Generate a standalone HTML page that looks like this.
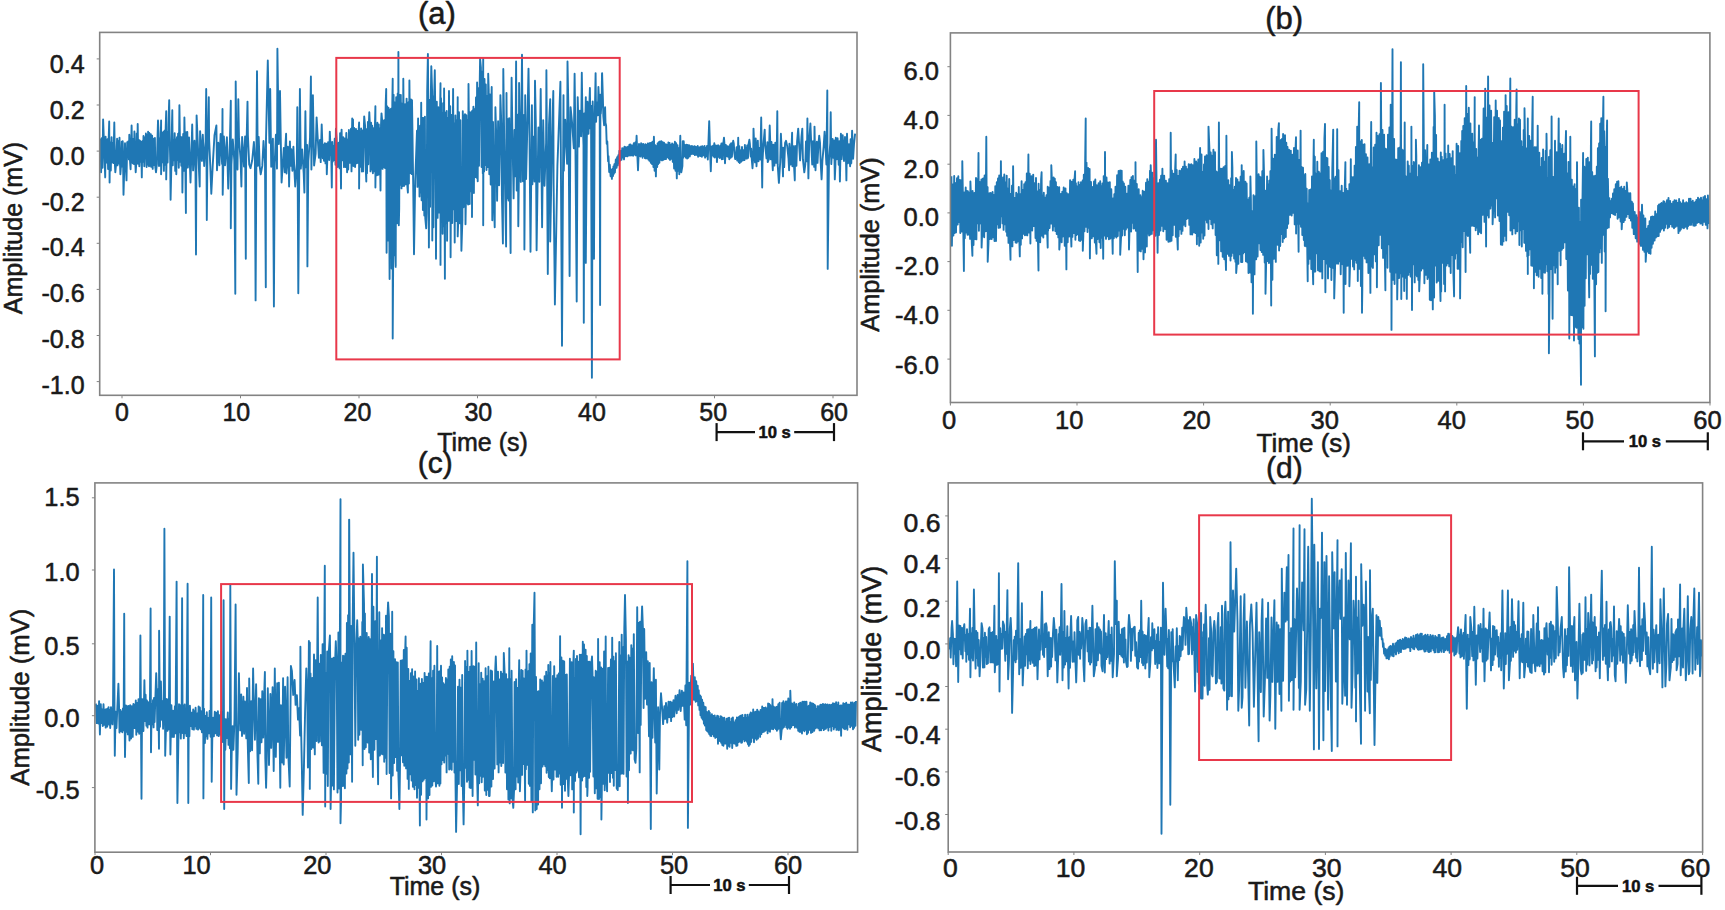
<!DOCTYPE html>
<html lang="en"><head><meta charset="utf-8"><title>Signals</title>
<style>html,body{margin:0;padding:0;background:#fff;}body{width:1725px;height:910px;overflow:hidden;}svg{display:block;font-family:"Liberation Sans", Arial, Helvetica, sans-serif;}svg text{stroke:#1a1a1a;stroke-width:0.55px;stroke-linejoin:round;}</style></head>
<body>
<svg width="1725" height="910" viewBox="0 0 1725 910">
<rect width="1725" height="910" fill="#ffffff"/>
<g id="panel-a">
<clipPath id="clip-a"><rect x="99.7" y="32.4" width="757.3" height="362.9"/></clipPath>
<path clip-path="url(#clip-a)" d="M100.7 138.5L101.1 172.3L101.8 138.1L102.5 167.8L103.1 119.4L104.0 143.0L104.9 168.8L105.2 177.4L105.6 136.7L106.0 159.0L106.7 143.4L107.1 162.7L107.5 139.3L108.1 169.1L108.7 138.3L109.2 121.5L109.6 182.5L110.0 142.2L110.8 170.6L111.6 137.2L112.1 162.3L112.7 143.2L113.4 163.0L114.3 122.5L115.0 166.3L115.3 172.3L116.2 163.0L117.1 138.8L117.5 165.4L118.3 141.3L118.7 163.6L119.5 137.7L120.0 163.5L120.4 174.3L121.2 162.9L121.8 141.6L122.3 166.6L122.7 141.3L123.1 162.4L123.5 194.7L124.5 161.7L125.0 143.2L125.5 157.4L126.5 180.4L127.2 142.2L127.9 156.7L128.4 141.3L128.9 159.4L129.3 134.8L129.9 159.3L130.6 169.3L131.6 125.5L131.9 139.4L132.7 163.2L133.2 138.9L133.9 164.0L134.4 131.5L135.2 161.0L135.7 172.3L136.2 164.2L136.7 133.5L137.2 163.6L137.7 123.9L138.3 163.8L138.7 139.8L139.3 166.3L140.0 140.8L140.9 161.9L141.2 142.0L141.8 177.4L142.3 141.2L142.9 161.7L143.5 136.0L144.3 166.2L145.1 137.3L145.5 158.4L145.9 133.5L146.6 167.0L147.0 135.1L147.6 164.6L148.1 131.7L148.5 163.1L148.9 166.2L149.3 133.0L150.0 165.7L150.8 134.1L151.3 166.9L152.1 135.6L152.7 168.9L153.5 138.7L154.2 165.1L154.9 137.9L155.3 167.2L156.0 172.3L156.9 163.9L157.6 135.6L158.0 120.5L158.6 133.1L159.0 166.0L159.6 138.4L160.3 165.5L161.1 120.5L161.1 174.3L161.5 159.3L162.0 132.6L162.5 162.2L163.3 132.0L163.9 170.9L164.5 130.7L164.9 164.7L165.7 126.5L166.2 111.3L166.2 179.4L166.5 162.2L167.2 132.1L167.6 162.6L168.4 124.9L169.2 100.1L169.6 133.6L170.2 159.9L170.6 199.7L171.4 164.0L171.9 127.5L172.3 110.3L172.8 165.3L173.2 139.9L174.0 160.4L174.7 133.3L175.2 170.9L175.6 139.2L176.3 174.3L177.0 137.1L177.4 160.1L178.1 133.6L178.8 167.7L179.4 105.2L180.3 161.7L180.9 136.9L181.3 165.7L182.0 137.5L182.4 192.6L183.2 133.9L183.9 170.9L184.4 117.4L185.3 162.5L185.9 213.0L186.1 132.3L186.6 167.5L187.3 132.0L187.9 167.5L189.0 137.4L190.5 182.5L191.6 146.3L192.2 124.5L193.1 170.4L194.5 140.7L195.5 172.8L196.0 254.6L196.6 115.4L197.4 134.2L198.9 168.5L199.7 186.5L200.1 131.1L201.9 160.9L202.8 134.7L204.2 166.0L205.6 141.5L206.2 89.0L206.8 220.1L207.4 159.0L208.8 97.1L209.1 139.1L210.3 166.1L211.3 193.7L212.7 165.9L214.5 135.1L216.4 125.5L217.0 170.3L218.3 142.8L219.4 165.3L220.6 134.0L222.1 163.9L222.5 108.9L222.7 194.7L223.9 136.5L225.1 165.2L226.9 137.2L228.2 188.6L229.9 141.3L230.8 100.7L230.8 228.2L231.4 164.7L232.8 139.5L234.3 160.8L235.3 293.7L235.7 81.4L236.3 139.3L237.5 169.6L238.3 99.1L239.0 138.9L240.6 159.4L241.4 186.5L242.1 136.9L244.0 166.5L245.1 136.5L245.8 258.7L246.1 163.4L247.5 101.6L247.9 135.2L249.2 164.4L250.5 168.2L252.2 160.3L253.9 142.0L254.9 159.9L255.6 300.4L256.5 138.8L257.0 71.3L257.8 165.8L258.7 136.9L259.7 166.3L260.7 174.3L262.3 165.9L263.5 141.0L265.0 163.1L265.8 287.2L266.0 139.9L267.8 60.5L269.4 142.8L270.2 89.0L271.2 166.7L272.9 138.8L273.9 306.5L274.7 163.3L275.9 134.7L277.0 168.6L277.4 48.7L278.8 144.0L280.0 91.0L280.9 147.3L281.6 182.5L282.4 169.8L283.8 148.0L284.7 172.3L285.4 146.1L286.1 133.7L286.5 173.5L287.9 146.8L288.9 172.5L289.1 186.5L289.9 141.4L290.6 165.8L291.3 149.1L292.4 170.8L293.4 146.7L294.2 166.3L295.2 186.5L296.8 163.6L297.3 107.3L298.3 293.3L299.5 141.4L299.9 89.0L300.8 168.6L302.2 149.5L303.7 173.7L304.4 192.6L305.4 111.3L306.1 167.3L307.1 145.0L307.4 266.4L308.3 160.9L310.0 138.3L310.9 76.4L311.4 169.5L312.9 95.1L314.1 165.6L315.6 154.0L316.6 117.4L317.8 139.3L318.9 157.7L320.0 140.0L320.7 162.1L321.7 124.5L322.8 158.3L323.5 144.7L324.0 160.7L324.9 143.1L325.5 163.4L326.4 143.6L326.8 174.3L327.3 159.8L328.1 142.1L329.2 160.0L329.8 131.6L330.2 140.1L331.3 156.8L331.8 187.6L332.2 141.9L332.8 161.5L333.3 145.9L334.0 160.0L334.7 138.8L335.5 164.8L335.9 128.6L336.6 138.3L337.7 167.0L338.7 142.8L339.6 168.4L340.1 133.1L340.7 165.5L341.0 188.6L341.3 137.0L341.6 129.6L342.1 160.4L343.2 137.3L344.0 167.1L344.7 138.4L345.6 167.0L346.3 132.9L347.1 172.3L347.6 139.8L348.2 169.5L348.9 130.0L349.9 162.9L351.0 128.8L351.5 171.4L352.2 118.4L352.6 164.3L353.0 119.4L353.4 166.1L354.2 128.0L355.1 167.1L356.0 128.9L356.7 163.3L357.4 130.9L357.8 162.8L358.5 133.5L359.1 122.5L359.1 188.6L359.7 131.6L360.3 166.8L361.1 128.5L361.9 171.6L362.7 130.4L363.1 171.4L363.9 126.2L364.2 116.4L365.1 126.1L365.8 169.9L366.3 181.5L366.5 129.2L367.0 173.2L367.9 121.9L368.3 164.3L368.8 125.7L369.3 112.3L370.1 129.2L370.5 171.4L371.1 122.7L371.7 169.6L372.2 125.6L372.9 173.2L373.3 128.1L374.1 171.4L374.9 126.8L375.4 106.2L375.4 187.6L376.2 124.8L376.9 175.2L377.4 122.8L378.2 174.7L378.8 124.5L379.2 174.4L379.6 128.1L380.5 190.6L381.0 125.1L381.5 113.4L382.2 121.0L382.6 168.9L383.3 120.6L383.9 167.0L384.4 120.1L385.0 168.0L385.7 103.3L386.2 89.0L386.6 252.7L387.3 106.4L388.1 240.6L388.6 108.0L389.6 279.1L390.0 109.6L390.5 257.0L391.1 108.6L391.6 268.6L392.3 102.9L392.7 78.8L392.7 338.5L393.1 275.2L393.6 94.8L394.4 255.3L394.8 102.5L395.4 258.1L395.7 266.9L396.2 97.2L397.0 223.3L397.7 93.4L398.1 209.6L398.4 52.0L398.8 225.2L399.2 208.8L399.7 94.9L400.4 184.8L400.8 94.9L401.5 188.4L402.0 103.6L402.9 186.0L403.3 78.8L403.5 100.8L404.2 185.9L405.1 104.1L405.9 184.4L406.6 98.6L407.4 187.0L407.9 192.6L408.3 102.4L408.9 183.5L409.4 80.4L409.7 107.0L410.3 173.1L411.0 99.4L411.6 174.0L412.0 100.1L413.2 184.2L414.0 254.3L415.2 181.2L417.0 130.6L417.5 186.9L418.1 118.5L418.5 184.0L419.0 127.4L419.5 196.5L420.1 125.8L420.6 192.6L421.2 102.8L421.6 200.2L422.4 117.9L422.9 210.0L423.7 117.9L424.3 215.6L424.9 116.8L425.3 218.4L426.2 228.3L426.7 212.9L427.2 91.2L427.9 54.0L428.3 103.2L428.9 247.6L429.6 100.0L430.1 206.8L430.6 109.1L431.3 66.2L432.1 91.1L432.3 240.5L433.0 96.3L433.4 227.2L434.2 95.1L434.8 70.3L435.3 115.0L436.0 258.8L436.8 101.8L437.6 217.9L438.3 107.2L439.2 212.5L440.0 114.3L440.5 83.3L440.5 264.9L441.0 98.3L441.6 221.9L442.0 112.7L442.6 233.7L443.1 103.2L443.6 226.2L444.1 88.5L444.9 278.7L445.3 112.8L446.0 222.8L446.7 110.9L447.1 240.7L447.8 118.2L448.5 220.9L449.0 91.0L449.6 220.6L450.2 106.2L450.6 257.2L451.4 114.9L452.2 223.0L453.1 89.0L453.8 209.3L454.2 123.2L454.7 242.5L455.4 115.4L456.2 221.0L456.6 120.6L457.0 208.6L457.7 97.1L457.7 236.4L458.4 215.7L459.0 112.2L459.8 223.2L460.4 120.2L460.9 202.8L461.4 250.7L462.4 219.5L462.8 111.3L463.5 207.2L464.0 115.8L464.4 205.7L465.0 114.1L465.5 224.2L465.8 206.5L466.3 115.2L467.1 203.3L467.6 119.7L468.1 204.6L468.5 83.9L468.9 119.3L469.7 204.1L470.1 112.2L470.8 191.2L471.2 123.8L472.0 111.3L472.0 217.1L472.4 110.8L473.0 190.0L473.4 106.7L473.9 193.0L474.5 109.1L475.1 177.0L476.0 97.5L476.7 177.7L477.1 82.4L477.7 181.2L478.2 88.3L479.0 165.8L479.6 89.6L480.1 58.5L480.9 67.7L481.6 167.0L482.3 71.5L482.8 173.6L483.2 58.5L483.2 225.2L483.6 88.8L484.1 171.5L484.5 78.9L485.2 165.0L485.8 84.4L486.5 170.0L487.1 95.9L487.8 167.1L488.2 73.7L488.7 90.1L489.3 174.2L490.0 94.5L490.7 184.6L491.4 102.2L491.7 86.9L492.3 220.2L493.0 122.0L493.9 201.1L494.7 227.3L495.4 107.3L496.2 134.5L497.1 200.7L498.1 121.2L499.1 185.3L500.0 138.1L500.4 95.1L501.4 127.7L501.9 195.4L502.9 243.5L503.3 69.0L504.2 138.5L505.3 202.0L506.1 246.6L506.5 93.0L507.1 198.2L507.7 119.1L508.6 200.5L509.2 118.1L509.8 191.4L510.6 253.1L511.0 142.4L511.6 77.8L512.5 139.4L513.6 198.4L514.5 130.0L515.4 176.4L516.1 61.5L516.7 190.5L517.9 114.7L518.3 226.3L518.8 182.2L519.1 82.9L519.6 116.1L520.8 181.9L522.0 54.8L522.9 181.2L524.1 115.0L524.4 249.6L524.8 194.0L525.2 95.1L526.1 179.0L527.2 132.4L528.5 68.6L529.5 138.1L530.5 251.7L531.6 140.3L531.9 105.2L532.4 184.3L533.7 136.7L534.5 181.6L535.0 80.8L535.8 122.2L536.6 250.3L538.4 127.5L539.4 181.8L540.7 89.0L541.1 126.4L542.1 227.3L543.2 120.1L544.5 185.7L546.1 142.5L546.4 70.3L547.8 274.0L549.0 124.6L550.2 99.1L550.2 241.5L552.1 137.0L553.3 91.0L553.6 183.4L554.9 304.5L557.4 166.0L559.0 122.4L560.4 81.8L562.0 345.8L563.5 95.1L563.8 170.6L565.2 119.8L567.1 163.7L567.5 61.5L568.5 114.6L569.6 276.1L570.2 159.4L570.6 107.3L572.1 123.2L573.8 148.3L574.6 73.7L575.2 119.5L576.7 301.5L577.7 97.1L578.0 109.2L578.9 146.6L579.9 110.7L581.1 136.3L581.8 72.7L582.3 107.3L583.5 144.9L583.8 322.8L584.3 113.4L585.0 138.3L585.8 97.1L585.8 262.9L586.8 139.1L587.5 101.8L588.5 133.8L589.9 87.9L590.4 128.5L591.0 105.8L591.9 377.7L592.7 101.5L593.3 129.6L594.0 258.8L594.6 126.6L595.6 73.1L596.1 121.7L596.8 102.2L597.9 115.3L598.4 86.9L599.7 114.3L600.1 305.1L600.4 94.8L600.8 113.8L601.7 98.9L602.0 73.7L602.1 73.1L602.9 98.5L603.3 115.8L604.1 125.2L605.1 107.3L605.5 122.7L606.1 125.4L606.7 143.8L607.3 141.5L608.1 161.2L608.5 156.1L609.2 172.0L609.8 164.7L610.6 176.2L611.4 170.0L611.9 178.9L612.5 168.6L613.0 176.0L613.4 166.5L613.9 173.8L614.4 164.1L614.9 172.4L615.8 159.5L616.6 167.7L617.1 157.3L617.8 165.4L618.3 155.2L618.8 163.2L619.4 150.7L620.1 160.6L620.7 151.0L621.5 159.7L622.2 148.3L623.1 157.5L623.6 148.3L624.0 159.4L624.5 146.7L625.2 156.2L625.7 147.3L626.1 156.0L626.8 147.5L627.3 156.4L628.0 146.8L628.7 155.6L629.4 144.8L629.9 155.2L630.4 144.4L631.0 155.5L631.8 145.4L632.3 155.1L632.7 145.8L633.1 155.8L633.8 143.1L634.6 154.5L635.3 142.4L635.8 155.4L636.6 135.7L637.3 154.2L638.0 170.3L638.6 155.3L639.0 143.9L639.5 156.0L640.0 144.9L640.6 156.5L641.1 143.3L641.6 155.4L642.1 144.3L642.6 157.7L643.3 144.0L644.0 156.1L644.6 144.9L645.0 158.1L645.4 144.3L646.0 158.5L646.6 145.0L646.9 158.1L647.8 143.4L648.3 159.5L648.7 143.6L649.4 160.8L650.0 142.9L650.8 162.7L651.5 142.8L652.0 164.1L652.6 141.8L653.4 167.0L653.9 136.7L654.2 147.5L654.6 170.7L655.2 145.2L655.9 176.4L656.5 146.1L657.2 167.1L657.6 143.4L658.1 164.1L658.7 142.3L659.4 162.8L660.0 141.4L660.9 159.8L661.4 141.2L662.0 160.4L662.7 142.1L663.5 159.8L664.0 142.6L664.6 159.0L665.2 144.1L665.9 159.1L666.4 144.4L666.9 157.5L667.5 144.9L667.9 156.9L668.4 142.4L668.8 158.5L669.6 143.0L670.0 159.9L670.8 144.9L671.3 158.8L672.1 143.5L672.8 161.9L673.5 144.4L674.1 168.6L674.9 141.8L675.5 170.7L676.2 143.3L676.8 178.4L677.5 145.1L678.2 170.9L678.6 148.1L679.3 174.3L680.3 135.7L680.8 168.5L681.3 172.3L682.4 166.2L682.8 141.3L683.2 157.7L683.7 141.2L684.6 156.1L685.1 145.2L685.7 157.6L686.3 144.6L687.1 158.5L687.6 144.9L688.3 157.8L689.1 145.3L689.8 156.3L690.6 146.2L691.1 154.2L691.9 145.9L692.5 153.9L693.1 146.8L693.7 154.0L694.4 146.3L694.9 155.1L695.4 146.7L695.8 154.3L696.6 147.1L697.0 155.0L697.7 146.0L698.1 156.7L698.7 147.4L699.5 155.7L699.9 147.2L700.6 156.0L701.1 146.5L701.9 156.7L702.5 146.3L703.2 155.4L703.6 147.7L704.1 155.5L704.6 146.0L705.1 157.6L705.5 147.6L706.4 156.4L707.0 146.0L707.8 159.5L708.3 146.0L709.2 121.1L710.0 148.0L710.8 171.3L711.5 146.4L712.4 155.2L713.0 145.7L713.6 156.6L714.3 143.2L714.8 157.5L715.4 145.4L716.2 156.6L716.6 145.6L716.9 162.1L717.4 156.6L718.1 145.3L718.8 156.9L719.2 147.4L719.8 158.0L720.2 145.7L720.7 157.3L721.4 143.5L721.8 159.2L722.4 143.8L722.8 159.1L723.4 142.6L724.0 137.7L724.6 145.7L725.0 163.2L725.9 145.0L726.4 156.2L727.3 146.3L728.0 156.7L728.6 146.4L729.3 159.2L730.1 144.5L730.7 157.7L731.2 143.3L731.9 156.7L732.6 144.7L733.2 140.8L733.8 143.6L734.4 153.7L735.2 159.1L735.8 157.4L736.6 147.2L737.2 160.5L738.0 147.7L738.2 137.7L738.7 162.1L739.3 146.3L739.7 163.0L740.3 150.2L741.1 161.8L742.0 147.0L742.7 160.5L743.6 150.1L744.4 160.1L744.9 144.9L745.5 158.5L746.3 147.5L746.8 158.6L747.2 145.4L748.0 157.9L748.5 144.4L749.4 139.8L749.9 144.2L750.7 156.5L751.2 148.7L751.7 158.3L752.5 168.2L753.2 157.1L753.5 128.6L754.0 140.7L755.0 162.4L755.7 138.5L756.5 166.2L757.8 140.6L758.5 161.3L759.5 147.9L760.3 159.5L761.2 117.4L762.2 187.6L762.5 162.3L763.3 146.1L764.7 129.6L765.1 144.3L766.5 158.3L767.4 142.3L767.7 162.1L768.8 159.4L769.7 125.5L770.8 159.3L771.5 142.0L772.5 164.1L772.8 170.3L773.4 144.6L774.4 165.6L775.3 142.6L776.1 162.7L776.9 141.1L777.3 111.3L777.7 164.9L778.9 182.9L780.2 162.3L780.9 133.7L781.4 144.9L782.4 160.0L783.0 176.4L783.3 147.7L784.2 167.1L785.1 142.9L786.0 140.8L787.2 146.1L788.5 158.4L789.1 170.3L789.4 143.7L790.7 164.5L791.7 143.6L792.1 132.7L792.4 166.3L793.1 146.0L794.0 165.5L794.8 180.4L795.1 145.9L796.4 165.8L797.1 141.6L798.2 128.6L799.0 142.6L800.1 160.4L801.5 136.8L802.3 128.6L802.9 159.2L804.3 172.3L805.3 164.5L806.0 141.4L806.9 161.3L807.4 118.4L807.7 136.5L808.4 178.4L809.2 141.4L810.4 123.5L811.1 140.4L812.2 164.5L813.0 141.3L814.2 166.9L814.5 126.6L814.9 145.7L815.5 170.3L816.8 141.7L817.5 162.9L818.5 143.5L819.2 135.7L820.0 142.6L820.7 162.9L821.6 179.4L822.4 160.8L823.7 146.1L824.6 131.6L825.4 145.1L826.4 164.5L827.3 90.4L827.7 268.9L829.0 160.4L830.3 142.9L830.7 112.3L831.3 164.1L832.6 138.9L833.5 157.9L834.2 140.5L834.8 179.4L835.4 165.8L835.8 137.7L836.1 143.0L836.7 159.3L837.6 138.2L838.7 164.7L839.3 141.1L839.9 181.5L840.9 133.7L841.6 159.1L842.7 135.2L844.0 161.0L845.0 137.0L846.0 160.5L846.4 180.4L847.0 133.7L848.0 163.2L849.0 144.3L850.1 166.2L850.6 139.3L851.3 163.4L852.1 130.6L853.1 158.7L854.0 144.1L855.1 133.7" fill="none" stroke="#1f77b4" stroke-width="1.90" stroke-linejoin="round"/>
<rect x="336.3" y="57.9" width="283.4" height="301.5" fill="none" stroke="#e8384a" stroke-width="2"/>
<rect x="99.7" y="32.4" width="757.3" height="362.9" fill="none" stroke="#838383" stroke-width="1.6"/>
<line x1="96.7" y1="58.9" x2="99.7" y2="58.9" stroke="#838383" stroke-width="1"/>
<line x1="96.7" y1="105.0" x2="99.7" y2="105.0" stroke="#838383" stroke-width="1"/>
<line x1="96.7" y1="151.1" x2="99.7" y2="151.1" stroke="#838383" stroke-width="1"/>
<line x1="96.7" y1="197.2" x2="99.7" y2="197.2" stroke="#838383" stroke-width="1"/>
<line x1="96.7" y1="243.3" x2="99.7" y2="243.3" stroke="#838383" stroke-width="1"/>
<line x1="96.7" y1="289.4" x2="99.7" y2="289.4" stroke="#838383" stroke-width="1"/>
<line x1="96.7" y1="335.5" x2="99.7" y2="335.5" stroke="#838383" stroke-width="1"/>
<line x1="96.7" y1="381.6" x2="99.7" y2="381.6" stroke="#838383" stroke-width="1"/>
<line x1="122.0" y1="395.3" x2="122.0" y2="398.3" stroke="#838383" stroke-width="1"/>
<line x1="240.5" y1="395.3" x2="240.5" y2="398.3" stroke="#838383" stroke-width="1"/>
<line x1="359.0" y1="395.3" x2="359.0" y2="398.3" stroke="#838383" stroke-width="1"/>
<line x1="477.5" y1="395.3" x2="477.5" y2="398.3" stroke="#838383" stroke-width="1"/>
<line x1="596.0" y1="395.3" x2="596.0" y2="398.3" stroke="#838383" stroke-width="1"/>
<line x1="714.5" y1="395.3" x2="714.5" y2="398.3" stroke="#838383" stroke-width="1"/>
<line x1="833.0" y1="395.3" x2="833.0" y2="398.3" stroke="#838383" stroke-width="1"/>
<text x="84.6" y="72.9" text-anchor="end" font-size="25" fill="#1a1a1a">0.4</text>
<text x="84.6" y="118.8" text-anchor="end" font-size="25" fill="#1a1a1a">0.2</text>
<text x="84.6" y="164.6" text-anchor="end" font-size="25" fill="#1a1a1a">0.0</text>
<text x="84.6" y="210.5" text-anchor="end" font-size="25" fill="#1a1a1a">-0.2</text>
<text x="84.6" y="256.3" text-anchor="end" font-size="25" fill="#1a1a1a">-0.4</text>
<text x="84.6" y="302.1" text-anchor="end" font-size="25" fill="#1a1a1a">-0.6</text>
<text x="84.6" y="348.0" text-anchor="end" font-size="25" fill="#1a1a1a">-0.8</text>
<text x="84.6" y="393.9" text-anchor="end" font-size="25" fill="#1a1a1a">-1.0</text>
<text x="122.0" y="421.3" text-anchor="middle" font-size="25" fill="#1a1a1a">0</text>
<text x="236.3" y="421.3" text-anchor="middle" font-size="25" fill="#1a1a1a">10</text>
<text x="357.4" y="421.3" text-anchor="middle" font-size="25" fill="#1a1a1a">20</text>
<text x="478.3" y="421.3" text-anchor="middle" font-size="25" fill="#1a1a1a">30</text>
<text x="591.9" y="421.3" text-anchor="middle" font-size="25" fill="#1a1a1a">40</text>
<text x="713.2" y="421.3" text-anchor="middle" font-size="25" fill="#1a1a1a">50</text>
<text x="834.1" y="421.3" text-anchor="middle" font-size="25" fill="#1a1a1a">60</text>
<text x="482.5" y="450.6" text-anchor="middle" font-size="25" fill="#1a1a1a">Time (s)</text>
<text transform="translate(22.0 228.0) rotate(-90)" text-anchor="middle" font-size="25" fill="#1a1a1a">Amplitude (mV)</text>
<text x="437.0" y="23.7" text-anchor="middle" font-size="31" fill="#1a1a1a">(a)</text>
<g stroke="#111" stroke-width="2.2" fill="none">
<line x1="716.6" y1="423.1" x2="716.6" y2="441.1"/>
<line x1="834.0" y1="423.1" x2="834.0" y2="441.1"/>
<line x1="716.6" y1="432.1" x2="755.0" y2="432.1"/>
<line x1="794.2" y1="432.1" x2="834.0" y2="432.1"/>
</g>
<text x="774.6" y="437.8" text-anchor="middle" font-size="16.6" font-weight="bold" fill="#111">10 s</text>
</g>
<g id="panel-b">
<clipPath id="clip-b"><rect x="950.4" y="32.9" width="759.5" height="369.6"/></clipPath>
<path clip-path="url(#clip-b)" d="M951.4 176.3L951.9 245.7L952.8 184.5L953.4 235.5L954.2 176.0L954.7 233.0L955.2 183.0L956.0 232.4L957.0 178.2L957.7 224.5L958.3 176.3L959.1 222.1L959.9 179.9L960.3 233.0L961.0 180.5L962.0 231.5L962.3 161.1L962.7 184.1L963.4 237.5L963.9 271.0L964.2 192.5L964.8 238.2L965.7 187.4L966.4 232.6L966.9 191.0L967.5 234.8L967.9 191.3L968.7 234.5L969.2 192.8L970.1 238.9L970.4 181.5L970.8 192.1L971.8 243.5L972.4 255.7L972.6 190.9L973.5 245.0L974.4 193.0L975.2 239.0L976.0 178.0L976.4 239.4L976.9 179.0L977.8 223.2L978.3 173.8L978.5 153.0L978.9 230.7L979.8 181.9L980.7 223.6L981.4 179.5L981.6 247.6L982.2 231.2L982.8 178.8L983.3 235.8L983.7 178.3L984.2 237.3L984.6 175.4L985.5 231.3L986.0 176.7L986.3 136.7L986.8 231.0L987.6 187.1L987.7 261.8L988.5 243.3L989.4 193.2L990.0 239.1L990.7 192.9L991.7 239.1L992.6 192.0L993.4 237.3L993.8 195.0L994.5 241.1L995.3 186.3L996.0 241.1L996.8 182.1L997.3 224.4L998.0 178.5L998.6 227.9L999.2 175.5L1000.1 227.5L1000.8 177.9L1000.9 161.1L1001.4 216.4L1002.0 182.4L1002.5 223.4L1003.0 177.4L1003.6 229.9L1004.3 174.5L1004.9 224.4L1005.7 182.5L1006.2 231.8L1006.7 175.6L1007.1 235.7L1007.8 188.7L1008.5 242.9L1009.2 178.9L1010.0 243.8L1010.5 259.8L1010.6 193.9L1011.3 245.5L1012.0 185.6L1012.4 246.4L1013.0 190.3L1013.1 166.2L1013.9 240.0L1014.7 198.0L1015.6 242.5L1016.2 192.8L1016.7 242.7L1017.4 194.1L1018.2 241.3L1018.8 187.0L1019.4 242.1L1019.8 256.4L1020.2 194.1L1020.8 244.7L1021.6 181.2L1022.1 238.4L1022.6 189.6L1023.5 233.8L1024.2 184.3L1024.9 235.2L1025.5 182.3L1026.3 234.8L1026.8 173.4L1027.3 235.4L1028.2 172.8L1028.4 154.4L1028.9 232.6L1029.7 173.7L1030.4 243.5L1030.5 226.0L1031.4 176.2L1032.2 230.5L1033.2 174.6L1033.8 226.0L1034.7 183.2L1035.5 238.0L1036.0 178.0L1036.6 240.9L1037.1 191.4L1038.0 243.3L1038.5 270.6L1038.6 183.8L1039.2 234.5L1039.7 190.3L1040.2 242.3L1041.1 179.3L1041.6 172.3L1042.0 235.7L1042.7 195.8L1043.3 237.5L1043.8 192.7L1044.4 233.8L1045.2 197.6L1045.9 233.8L1046.5 195.3L1047.1 231.2L1047.7 247.6L1047.7 186.7L1048.1 230.8L1049.1 187.8L1049.6 228.0L1050.5 180.9L1051.3 223.5L1051.3 165.2L1052.1 185.0L1052.9 230.6L1053.6 177.5L1054.3 226.3L1054.8 178.8L1055.3 231.0L1055.9 182.1L1056.7 234.1L1057.4 186.9L1058.3 237.4L1059.2 187.3L1059.3 249.6L1060.1 237.5L1060.9 194.0L1061.7 242.2L1062.3 191.6L1062.8 236.5L1063.7 187.5L1064.7 245.8L1065.5 188.5L1066.2 251.3L1066.4 269.4L1066.8 193.1L1067.7 242.2L1068.5 194.2L1069.2 236.6L1070.1 180.1L1071.0 235.8L1071.4 246.6L1071.7 181.6L1072.4 236.9L1073.3 179.6L1074.1 233.0L1074.5 179.8L1075.1 171.3L1075.4 239.8L1075.9 183.2L1076.6 235.0L1077.1 186.5L1077.6 234.0L1078.5 182.1L1079.0 240.4L1079.5 185.0L1080.1 241.0L1081.0 182.1L1082.0 240.0L1082.7 180.4L1082.8 250.7L1083.3 236.4L1083.8 174.8L1084.5 231.3L1085.1 167.0L1085.7 118.4L1085.7 226.9L1086.5 162.6L1087.5 232.0L1088.1 168.0L1088.8 227.7L1089.6 169.0L1089.9 258.4L1090.2 229.7L1091.0 182.0L1091.8 238.2L1092.2 186.9L1093.1 236.4L1094.0 181.5L1094.8 242.6L1095.3 179.5L1095.9 243.2L1096.5 253.7L1096.8 185.1L1097.6 239.1L1098.6 183.3L1099.4 242.3L1100.2 181.3L1100.7 248.0L1101.2 186.4L1101.8 237.7L1102.4 183.4L1103.0 241.9L1103.2 258.8L1103.7 176.1L1104.7 235.6L1105.0 152.0L1105.1 173.8L1106.0 238.9L1106.5 177.5L1107.4 236.2L1108.0 182.4L1108.9 239.2L1109.8 182.1L1110.4 238.6L1111.3 189.3L1112.2 233.2L1112.7 253.7L1113.0 198.5L1113.8 238.2L1114.3 194.2L1114.9 236.3L1115.5 186.8L1116.4 237.6L1117.1 175.3L1117.8 236.0L1118.6 171.0L1119.6 230.8L1120.2 170.5L1120.2 254.7L1121.1 236.2L1121.7 170.8L1122.2 235.6L1122.7 181.5L1123.4 228.9L1123.9 183.4L1124.8 235.2L1125.3 186.8L1125.9 229.5L1126.9 193.7L1127.5 227.5L1128.4 185.8L1129.0 249.6L1129.4 233.6L1130.3 180.0L1131.1 231.5L1131.5 177.1L1132.0 222.8L1132.9 176.0L1133.5 228.6L1134.3 180.7L1134.9 228.4L1135.5 179.7L1135.5 162.1L1135.9 230.8L1136.8 184.0L1137.7 272.0L1137.8 241.6L1138.7 189.2L1139.5 250.7L1140.4 195.3L1140.8 251.4L1141.3 197.0L1141.9 248.7L1142.7 190.8L1143.5 259.2L1144.4 191.6L1145.0 252.4L1146.0 182.8L1146.8 246.5L1147.3 179.1L1147.8 233.6L1148.6 181.6L1149.1 235.6L1150.0 170.7L1150.5 234.6L1150.7 165.2L1151.3 184.0L1151.8 233.9L1152.5 172.6L1153.2 230.2L1154.0 178.1L1154.6 227.2L1155.0 172.8L1155.4 235.7L1156.0 139.8L1156.4 171.2L1157.4 237.0L1157.6 252.7L1158.3 183.3L1159.0 235.1L1159.9 179.7L1160.5 230.5L1161.1 175.7L1161.6 225.9L1162.4 168.7L1163.3 231.2L1164.2 175.8L1165.0 229.0L1165.9 180.8L1166.6 239.8L1167.5 183.3L1168.4 241.8L1169.2 179.1L1169.9 241.6L1170.6 164.6L1170.7 132.7L1171.5 240.8L1171.9 170.5L1172.7 235.3L1173.3 173.6L1174.2 224.9L1175.1 170.5L1175.7 154.4L1175.8 236.8L1176.7 170.0L1177.2 236.2L1177.8 249.6L1178.1 175.9L1178.6 236.2L1179.5 170.8L1180.0 229.4L1180.6 171.3L1181.4 233.9L1181.8 169.0L1182.5 230.9L1183.0 166.7L1183.7 224.8L1184.6 161.5L1185.4 226.2L1185.9 166.6L1186.7 219.1L1187.2 169.2L1187.8 218.0L1188.7 164.3L1189.3 224.9L1189.9 164.8L1190.5 234.4L1191.3 164.2L1192.2 234.6L1192.8 165.2L1193.4 232.4L1194.4 159.0L1195.3 233.0L1196.1 161.5L1196.9 244.3L1197.3 163.4L1197.8 235.8L1198.3 159.4L1199.2 245.8L1199.9 165.0L1200.1 147.9L1200.7 242.5L1201.5 154.5L1202.0 232.6L1202.5 171.6L1203.2 238.7L1204.0 164.4L1204.5 235.6L1205.0 156.4L1206.0 219.7L1206.6 155.1L1207.0 222.5L1207.7 159.6L1208.5 229.1L1208.5 126.6L1209.5 151.0L1210.3 219.1L1210.7 152.4L1211.3 224.3L1211.9 155.6L1212.7 228.4L1213.4 149.8L1214.3 222.5L1215.0 152.2L1215.6 235.1L1216.1 171.5L1216.8 255.3L1217.7 172.2L1218.3 241.5L1218.3 263.9L1218.9 122.5L1219.2 171.9L1220.2 240.4L1220.6 168.8L1221.1 251.2L1222.1 168.8L1222.7 256.7L1223.6 167.2L1224.3 259.3L1225.2 166.0L1225.6 257.9L1226.0 270.0L1226.4 135.7L1226.6 167.9L1227.5 253.7L1228.3 180.2L1229.0 255.9L1229.5 185.3L1230.5 260.6L1231.1 178.3L1231.5 255.9L1231.9 152.0L1232.4 167.9L1233.0 252.7L1233.6 190.0L1234.1 258.6L1234.8 186.7L1235.4 261.7L1236.0 178.0L1236.2 273.0L1237.0 262.5L1237.4 179.4L1238.4 263.8L1238.9 182.3L1239.9 254.3L1240.6 176.8L1241.1 262.0L1241.7 165.1L1242.3 262.1L1242.7 173.0L1243.2 253.4L1243.7 170.9L1244.5 252.1L1245.4 181.8L1245.9 261.2L1246.6 183.5L1247.5 262.4L1248.0 199.6L1248.5 273.1L1249.3 197.6L1250.1 272.5L1250.4 176.4L1250.9 199.4L1251.5 282.3L1251.9 210.9L1252.8 274.7L1252.9 313.7L1253.5 195.2L1254.5 274.4L1255.3 196.3L1256.2 259.3L1256.3 141.4L1256.8 185.1L1257.6 256.6L1258.6 174.2L1259.5 243.4L1259.9 176.8L1260.4 250.0L1261.2 177.7L1261.7 252.1L1262.3 171.1L1263.2 254.9L1263.4 149.9L1264.0 172.6L1264.7 262.6L1265.4 190.8L1265.5 293.8L1266.2 259.7L1267.1 176.5L1267.7 261.1L1268.2 184.7L1268.9 263.1L1269.3 180.6L1269.8 262.6L1270.4 171.1L1271.2 305.5L1271.2 263.4L1271.6 128.6L1271.9 150.9L1272.4 279.7L1273.0 158.6L1274.0 258.8L1274.8 154.6L1275.8 261.9L1276.7 137.0L1277.6 244.7L1278.3 130.2L1278.9 123.1L1279.1 250.6L1279.7 140.4L1280.2 246.0L1280.9 140.0L1281.4 234.0L1282.0 139.0L1282.7 242.1L1283.1 134.0L1284.1 238.4L1285.0 135.1L1285.8 237.0L1286.3 142.7L1287.1 228.0L1287.5 147.0L1288.2 223.8L1289.0 149.6L1289.8 214.9L1290.8 150.6L1291.7 215.5L1292.6 154.7L1293.2 212.7L1294.0 148.0L1294.7 224.4L1295.4 151.7L1296.0 137.3L1296.1 233.6L1296.6 152.3L1297.1 223.9L1297.7 150.4L1298.3 227.7L1298.6 251.7L1299.0 159.9L1299.7 223.9L1300.4 159.4L1300.6 130.6L1301.0 226.8L1301.8 167.3L1302.3 235.1L1303.0 167.7L1303.8 240.1L1304.3 175.4L1304.8 245.9L1305.3 173.9L1306.3 246.4L1306.7 188.7L1307.3 253.4L1307.7 281.2L1307.8 203.6L1308.4 263.9L1309.2 189.9L1310.0 258.9L1310.8 189.4L1311.3 269.1L1312.0 176.4L1312.8 270.2L1313.2 284.2L1313.4 167.8L1313.8 139.8L1314.1 271.8L1314.8 156.8L1315.3 271.6L1315.9 173.6L1316.8 253.2L1317.3 161.8L1318.0 270.2L1318.8 171.8L1319.6 271.4L1320.0 173.5L1320.6 271.5L1321.5 153.2L1322.3 278.4L1323.1 151.8L1323.9 259.0L1324.4 138.9L1325.0 123.9L1325.3 280.3L1325.4 292.3L1326.2 157.7L1326.8 263.5L1327.4 158.2L1328.0 278.4L1328.7 166.9L1329.3 266.2L1329.8 180.2L1330.3 267.0L1330.9 190.6L1331.4 280.1L1332.3 169.7L1333.2 129.6L1333.3 268.0L1334.1 178.2L1334.2 298.4L1335.1 266.0L1335.6 176.6L1336.5 263.6L1337.2 129.2L1337.3 151.8L1338.1 263.7L1338.5 170.1L1339.2 261.2L1340.0 191.1L1340.7 274.3L1341.7 185.8L1342.6 264.3L1343.1 192.9L1343.7 312.7L1343.8 268.3L1344.6 195.4L1345.4 162.1L1345.5 284.0L1346.3 188.8L1347.2 265.7L1347.8 191.0L1348.6 265.6L1349.4 184.1L1349.4 286.2L1350.1 264.1L1350.8 159.1L1351.0 189.3L1351.5 258.9L1352.1 177.3L1353.0 266.6L1353.7 177.0L1354.2 269.4L1354.6 165.6L1355.4 260.0L1355.9 147.0L1356.5 262.8L1357.2 126.6L1357.8 281.0L1358.5 137.3L1359.2 102.2L1359.3 268.8L1360.2 141.5L1360.9 286.1L1361.8 139.9L1362.0 312.7L1362.3 290.5L1363.0 144.7L1363.5 255.7L1364.5 144.1L1365.1 258.6L1365.9 154.1L1366.6 262.4L1367.5 157.4L1368.4 273.0L1369.3 164.1L1370.0 249.6L1370.4 292.9L1370.8 158.8L1371.2 121.9L1371.7 266.6L1372.2 167.1L1372.9 267.9L1373.7 147.5L1374.4 254.2L1375.2 144.8L1375.8 261.4L1376.5 132.8L1376.9 287.3L1377.1 252.0L1377.8 136.0L1378.7 245.3L1379.5 134.2L1380.4 234.9L1380.9 82.9L1381.2 125.2L1381.8 248.3L1382.5 130.0L1383.1 257.9L1384.1 134.6L1384.9 260.5L1385.4 290.3L1385.6 148.8L1386.3 253.2L1386.8 149.5L1387.5 267.7L1388.0 134.6L1388.5 244.4L1389.4 127.5L1390.2 271.7L1390.7 104.7L1391.4 278.2L1391.5 329.9L1392.3 92.2L1392.5 49.3L1393.1 279.8L1394.1 138.9L1394.6 284.1L1395.0 159.3L1395.8 272.6L1396.7 159.6L1397.2 299.4L1397.7 267.9L1398.2 148.2L1399.1 278.1L1399.5 147.8L1400.1 273.3L1400.7 122.4L1400.9 62.1L1401.3 299.0L1401.9 149.5L1402.6 276.6L1403.3 150.4L1404.2 291.1L1404.6 148.6L1404.7 122.5L1405.1 277.8L1405.9 176.5L1406.8 298.9L1407.7 161.5L1408.4 274.9L1408.8 165.7L1409.4 272.1L1410.1 173.6L1410.6 276.5L1411.4 161.0L1411.4 126.6L1411.9 276.8L1412.0 310.0L1412.6 166.0L1413.3 264.3L1413.8 162.0L1414.7 282.4L1415.2 162.9L1415.7 274.8L1415.9 139.8L1416.3 155.5L1417.0 276.4L1417.5 177.3L1418.3 280.0L1418.9 165.2L1419.2 291.3L1419.9 274.0L1420.3 167.3L1421.1 270.5L1422.0 162.6L1422.9 268.6L1423.2 64.2L1423.7 130.5L1424.4 283.2L1425.1 150.2L1425.9 274.9L1426.8 169.6L1427.3 144.9L1427.5 279.0L1428.2 164.2L1428.9 277.2L1429.4 164.2L1429.8 299.8L1430.3 159.5L1431.0 300.3L1431.9 152.6L1432.8 309.4L1433.6 126.9L1434.1 297.5L1434.2 92.0L1434.9 115.8L1435.7 265.5L1436.1 135.0L1436.7 282.6L1437.7 158.5L1438.3 280.7L1439.0 162.0L1440.0 281.5L1440.5 301.1L1440.8 152.4L1441.2 291.4L1441.7 156.7L1442.5 262.7L1443.2 160.1L1444.1 284.1L1444.5 155.5L1444.6 104.8L1445.1 291.4L1445.6 153.5L1446.5 265.5L1447.1 159.3L1447.7 263.4L1448.2 145.4L1449.2 266.4L1449.7 153.9L1450.7 273.0L1451.3 158.2L1451.9 255.1L1452.7 151.1L1453.4 273.9L1454.1 296.4L1454.3 166.3L1455.1 258.7L1455.7 174.6L1456.1 253.2L1456.6 143.8L1456.9 165.0L1457.6 268.7L1458.2 145.9L1459.2 268.9L1459.9 153.3L1460.1 298.4L1460.5 255.2L1461.3 141.0L1461.7 242.0L1462.2 131.0L1462.7 247.3L1463.3 126.0L1463.8 231.0L1464.7 118.3L1465.4 241.8L1465.6 272.0L1466.1 114.5L1466.2 85.9L1466.8 234.8L1467.2 113.6L1467.9 236.0L1468.8 107.8L1469.8 238.9L1470.2 252.7L1470.4 123.4L1471.3 225.7L1472.2 133.6L1473.0 225.8L1473.7 142.3L1474.1 226.1L1474.7 97.1L1474.7 131.4L1475.7 230.2L1476.2 149.0L1476.6 227.6L1477.3 157.8L1478.1 234.2L1478.6 150.4L1479.0 125.5L1479.5 231.9L1480.2 139.6L1481.1 233.3L1482.0 138.8L1482.6 214.9L1483.6 108.5L1484.5 221.9L1485.2 88.6L1485.8 212.0L1486.1 246.6L1486.5 117.6L1487.3 215.3L1488.0 95.7L1488.1 76.4L1488.8 217.5L1489.5 105.5L1490.4 208.5L1491.1 110.6L1491.9 205.5L1492.6 142.9L1492.6 224.2L1493.3 206.9L1494.2 117.3L1495.1 217.4L1495.7 100.4L1496.2 198.3L1497.0 110.6L1497.9 215.6L1498.8 118.0L1499.5 221.1L1500.0 120.5L1500.9 244.6L1501.7 141.1L1502.3 244.9L1502.9 127.6L1503.5 241.4L1504.1 111.7L1505.0 235.8L1505.6 95.1L1506.2 240.5L1506.7 105.9L1507.6 211.7L1508.5 112.1L1509.2 215.3L1510.0 114.6L1510.3 78.4L1510.5 230.5L1511.5 126.7L1512.3 234.4L1513.3 127.3L1514.2 228.4L1514.7 119.8L1515.5 233.5L1516.3 108.6L1516.6 89.4L1517.2 231.2L1517.7 124.6L1518.4 221.3L1518.9 118.4L1519.4 245.1L1520.0 119.8L1520.7 230.2L1521.4 141.2L1521.8 246.6L1522.6 147.2L1523.3 229.1L1523.7 130.0L1524.3 242.7L1524.5 108.3L1525.0 137.5L1526.0 250.9L1526.9 148.1L1527.3 256.6L1527.8 118.4L1527.8 274.0L1527.8 132.5L1528.6 255.2L1529.2 136.0L1529.8 249.4L1530.5 140.7L1531.3 265.5L1532.1 134.6L1532.7 96.7L1532.8 265.9L1533.4 149.4L1533.9 252.3L1533.9 288.3L1534.6 147.1L1535.2 271.8L1536.0 147.2L1536.7 275.2L1537.7 125.6L1538.6 276.7L1539.3 152.8L1539.7 268.7L1540.6 167.3L1541.2 278.0L1541.7 157.9L1542.4 273.0L1542.4 293.8L1543.1 149.5L1543.7 272.3L1544.2 161.6L1545.0 272.8L1545.7 150.7L1546.1 264.4L1546.5 133.7L1546.7 146.5L1547.3 271.3L1548.0 177.6L1548.5 293.9L1548.9 157.0L1548.9 353.3L1549.5 296.9L1550.3 150.2L1550.7 269.1L1551.5 145.7L1551.6 116.4L1552.4 287.4L1552.6 318.8L1553.2 177.0L1553.8 265.4L1554.7 173.1L1555.0 140.8L1555.1 272.7L1555.8 157.7L1556.2 267.5L1556.8 152.3L1557.7 284.2L1557.7 257.7L1558.4 148.3L1558.7 118.4L1559.3 250.9L1560.0 143.7L1560.6 265.2L1561.2 149.3L1561.8 249.8L1562.3 145.0L1563.3 248.1L1564.2 153.8L1564.8 242.3L1565.5 149.1L1566.0 131.0L1566.3 259.0L1567.0 173.3L1567.9 290.6L1568.5 161.9L1569.2 293.2L1569.3 338.5L1570.2 160.3L1570.3 136.7L1571.1 315.1L1571.8 179.6L1572.5 315.2L1573.2 186.4L1574.0 340.6L1574.6 184.1L1575.1 326.8L1575.6 189.2L1576.6 327.7L1577.0 162.1L1577.4 213.0L1578.4 339.0L1578.9 207.7L1579.5 343.6L1580.0 222.4L1580.5 340.3L1581.0 384.8L1581.1 199.7L1582.0 327.0L1582.5 199.3L1583.1 153.0L1583.4 328.8L1584.0 166.5L1584.6 305.7L1585.1 167.5L1585.8 278.3L1586.3 159.0L1587.2 254.4L1587.8 157.6L1588.7 267.2L1589.2 297.4L1589.5 162.3L1590.1 273.9L1590.9 146.8L1591.2 121.5L1591.5 264.8L1592.2 171.9L1592.8 278.8L1593.6 176.2L1594.4 288.5L1594.9 356.4L1595.2 175.6L1596.1 284.3L1596.8 166.8L1597.3 272.8L1597.9 148.2L1598.4 272.1L1599.1 143.4L1599.6 252.4L1600.2 123.8L1600.8 248.3L1601.3 118.1L1601.8 262.9L1602.1 227.9L1602.9 126.5L1603.4 96.7L1603.7 234.9L1604.2 131.1L1604.7 251.6L1605.3 147.0L1605.6 311.2L1605.8 254.0L1606.3 153.6L1607.1 120.5L1607.1 228.3L1607.9 178.8L1608.8 227.5L1609.4 198.1L1610.0 217.4L1610.5 201.2L1611.4 213.0L1611.9 198.8L1612.5 213.5L1613.0 193.4L1613.8 214.3L1614.3 189.3L1615.1 215.0L1615.8 184.1L1616.5 212.1L1617.1 181.6L1617.6 218.7L1618.4 181.2L1619.0 217.3L1619.8 187.9L1620.6 221.5L1621.3 186.7L1621.7 229.3L1622.2 219.6L1623.0 188.9L1623.7 222.1L1624.2 186.7L1624.8 220.1L1625.6 191.0L1626.5 216.7L1626.8 182.5L1627.3 190.4L1628.2 214.1L1628.9 193.1L1629.4 218.1L1630.3 193.2L1630.9 220.5L1631.8 201.6L1632.3 227.7L1632.9 203.5L1633.8 234.1L1634.7 212.0L1635.7 238.2L1636.5 215.1L1637.2 241.6L1638.1 217.4L1639.0 243.8L1639.9 211.9L1640.7 245.8L1641.2 213.9L1641.6 245.8L1642.0 204.8L1642.3 216.1L1643.0 249.9L1643.4 215.5L1644.4 251.8L1645.3 218.4L1645.7 261.8L1646.2 252.6L1647.0 228.6L1647.7 251.5L1648.2 226.0L1649.0 253.1L1649.6 221.2L1650.5 253.8L1651.0 216.9L1651.6 247.7L1652.3 216.4L1652.9 243.8L1653.9 216.6L1654.6 240.6L1655.2 211.4L1655.9 237.5L1656.4 214.2L1657.3 236.2L1658.1 205.7L1658.7 236.1L1659.1 204.4L1660.0 231.9L1660.5 203.9L1660.9 229.8L1661.5 203.0L1662.4 228.3L1663.4 201.2L1663.9 230.5L1664.4 201.6L1665.1 227.7L1665.9 203.4L1666.5 223.7L1667.0 200.3L1667.7 228.2L1668.5 197.9L1669.2 226.9L1670.1 201.0L1670.8 224.1L1671.3 203.6L1672.2 226.7L1673.2 201.6L1674.0 228.2L1674.6 200.1L1675.5 226.9L1676.3 200.5L1676.9 225.8L1677.6 202.9L1678.5 233.1L1679.1 199.0L1679.9 230.7L1680.3 202.2L1680.8 229.4L1681.7 203.7L1682.3 227.6L1683.1 200.2L1683.9 228.2L1684.6 203.1L1685.4 226.7L1686.3 202.1L1687.2 228.8L1687.7 203.1L1688.2 226.0L1689.0 198.8L1689.8 224.7L1690.5 198.6L1691.2 224.7L1691.6 202.1L1692.1 221.8L1692.8 200.7L1693.3 225.6L1693.7 202.7L1694.7 225.8L1695.3 201.9L1695.8 225.3L1696.4 200.0L1697.4 222.7L1698.0 197.8L1698.8 222.1L1699.7 199.1L1700.4 223.6L1701.0 197.6L1701.6 223.2L1702.1 200.5L1702.6 225.0L1703.4 197.1L1704.3 221.7L1705.0 196.0L1705.8 224.7L1706.6 199.2L1707.5 228.4L1707.9 195.5L1708.7 224.1" fill="none" stroke="#1f77b4" stroke-width="1.90" stroke-linejoin="round"/>
<rect x="1154.2" y="91.0" width="484.4" height="243.6" fill="none" stroke="#e8384a" stroke-width="2"/>
<rect x="950.4" y="32.9" width="759.5" height="369.6" fill="none" stroke="#838383" stroke-width="1.6"/>
<line x1="947.4" y1="66.7" x2="950.4" y2="66.7" stroke="#838383" stroke-width="1"/>
<line x1="947.4" y1="115.4" x2="950.4" y2="115.4" stroke="#838383" stroke-width="1"/>
<line x1="947.4" y1="164.2" x2="950.4" y2="164.2" stroke="#838383" stroke-width="1"/>
<line x1="947.4" y1="212.9" x2="950.4" y2="212.9" stroke="#838383" stroke-width="1"/>
<line x1="947.4" y1="261.6" x2="950.4" y2="261.6" stroke="#838383" stroke-width="1"/>
<line x1="947.4" y1="310.3" x2="950.4" y2="310.3" stroke="#838383" stroke-width="1"/>
<line x1="947.4" y1="359.1" x2="950.4" y2="359.1" stroke="#838383" stroke-width="1"/>
<line x1="950.4" y1="402.5" x2="950.4" y2="405.5" stroke="#838383" stroke-width="1"/>
<line x1="1077.0" y1="402.5" x2="1077.0" y2="405.5" stroke="#838383" stroke-width="1"/>
<line x1="1203.6" y1="402.5" x2="1203.6" y2="405.5" stroke="#838383" stroke-width="1"/>
<line x1="1330.2" y1="402.5" x2="1330.2" y2="405.5" stroke="#838383" stroke-width="1"/>
<line x1="1456.8" y1="402.5" x2="1456.8" y2="405.5" stroke="#838383" stroke-width="1"/>
<line x1="1583.4" y1="402.5" x2="1583.4" y2="405.5" stroke="#838383" stroke-width="1"/>
<line x1="1710.0" y1="402.5" x2="1710.0" y2="405.5" stroke="#838383" stroke-width="1"/>
<text x="939.0" y="80.2" text-anchor="end" font-size="25.5" fill="#1a1a1a">6.0</text>
<text x="939.0" y="129.1" text-anchor="end" font-size="25.5" fill="#1a1a1a">4.0</text>
<text x="939.0" y="177.5" text-anchor="end" font-size="25.5" fill="#1a1a1a">2.0</text>
<text x="939.0" y="226.2" text-anchor="end" font-size="25.5" fill="#1a1a1a">0.0</text>
<text x="939.0" y="275.4" text-anchor="end" font-size="25.5" fill="#1a1a1a">-2.0</text>
<text x="939.0" y="324.3" text-anchor="end" font-size="25.5" fill="#1a1a1a">-4.0</text>
<text x="939.0" y="373.7" text-anchor="end" font-size="25.5" fill="#1a1a1a">-6.0</text>
<text x="949.0" y="429.4" text-anchor="middle" font-size="25.5" fill="#1a1a1a">0</text>
<text x="1069.3" y="429.4" text-anchor="middle" font-size="25.5" fill="#1a1a1a">10</text>
<text x="1196.6" y="429.4" text-anchor="middle" font-size="25.5" fill="#1a1a1a">20</text>
<text x="1324.7" y="429.4" text-anchor="middle" font-size="25.5" fill="#1a1a1a">30</text>
<text x="1451.8" y="429.4" text-anchor="middle" font-size="25.5" fill="#1a1a1a">40</text>
<text x="1579.7" y="429.4" text-anchor="middle" font-size="25.5" fill="#1a1a1a">50</text>
<text x="1707.5" y="429.4" text-anchor="middle" font-size="25.5" fill="#1a1a1a">60</text>
<text x="1303.8" y="452.4" text-anchor="middle" font-size="26" fill="#1a1a1a">Time (s)</text>
<text transform="translate(878.8 244.5) rotate(-90)" text-anchor="middle" font-size="25.3" fill="#1a1a1a">Amplitude (mV)</text>
<text x="1284.2" y="28.5" text-anchor="middle" font-size="31" fill="#1a1a1a">(b)</text>
<g stroke="#111" stroke-width="2.2" fill="none">
<line x1="1583.0" y1="432.3" x2="1583.0" y2="450.3"/>
<line x1="1707.8" y1="432.3" x2="1707.8" y2="450.3"/>
<line x1="1583.0" y1="441.3" x2="1624.0" y2="441.3"/>
<line x1="1665.8" y1="441.3" x2="1707.8" y2="441.3"/>
</g>
<text x="1644.9" y="447.0" text-anchor="middle" font-size="16.6" font-weight="bold" fill="#111">10 s</text>
</g>
<g id="panel-c">
<clipPath id="clip-c"><rect x="94.9" y="482.9" width="762.7" height="369.3"/></clipPath>
<path clip-path="url(#clip-c)" d="M95.9 703.6L96.7 723.1L97.6 705.6L98.4 723.5L99.1 701.1L99.9 734.5L100.8 704.2L101.4 723.1L102.1 709.4L102.8 726.0L103.5 704.3L104.4 724.8L105.2 709.7L105.7 727.6L106.2 709.1L107.2 726.6L107.7 708.4L108.2 723.6L108.6 707.1L109.2 724.7L109.7 710.3L110.2 728.0L111.0 707.1L111.5 723.2L112.0 708.9L112.5 724.4L113.0 709.9L114.0 569.4L114.5 709.2L114.8 755.8L115.2 733.0L115.8 711.8L116.5 728.0L117.3 709.0L118.4 683.7L119.0 704.2L119.5 732.6L120.4 710.0L121.1 731.0L121.5 711.6L122.3 732.3L122.9 708.4L123.6 730.2L124.2 613.8L124.5 704.1L125.0 757.0L125.9 705.5L126.5 731.7L127.0 706.3L127.8 734.4L128.5 705.9L129.5 740.5L130.2 705.3L131.1 738.5L131.9 706.2L132.7 736.9L133.4 704.0L134.0 728.0L134.5 704.6L135.3 728.3L135.8 700.4L136.3 734.7L137.1 703.0L138.1 731.7L138.5 699.1L139.2 733.8L140.0 706.7L140.4 635.5L141.5 798.8L141.9 735.7L142.5 699.1L143.4 731.0L144.4 680.2L145.2 721.0L145.6 694.8L146.4 725.7L146.9 700.5L147.5 727.6L148.2 702.1L148.6 724.3L149.1 703.5L149.8 724.3L150.6 608.5L151.0 752.3L151.3 731.0L151.9 704.5L152.3 724.2L153.0 700.3L153.6 727.4L154.0 697.9L154.6 722.0L155.4 697.3L156.2 673.1L156.9 694.8L157.3 730.1L158.1 689.3L159.0 748.7L159.1 630.8L160.0 726.8L160.9 681.4L161.8 719.8L162.6 701.1L163.1 728.8L163.8 696.4L164.4 528.8L165.2 755.8L165.8 734.6L166.8 699.0L167.4 730.9L167.9 700.1L168.4 729.5L168.9 707.7L169.7 616.6L170.0 705.4L170.4 754.6L170.9 729.3L171.4 705.1L172.3 736.9L173.0 710.7L173.9 737.0L174.9 706.3L175.5 733.3L176.6 581.6L177.1 746.9L177.4 803.1L178.4 740.0L179.0 704.3L179.6 732.3L180.2 705.1L180.8 738.6L181.7 704.9L182.1 598.3L182.6 733.1L183.3 705.5L183.8 738.2L184.7 704.4L185.3 733.3L185.8 710.9L186.5 736.0L187.6 583.7L188.3 803.1L188.8 707.9L189.4 736.3L189.9 705.8L190.8 726.0L191.6 712.6L192.3 729.2L193.2 709.4L193.9 729.6L194.5 711.4L194.9 726.2L195.6 707.7L196.4 728.9L197.4 713.5L198.1 729.6L198.6 706.4L199.4 727.7L199.9 707.5L200.6 729.3L201.1 711.2L201.9 732.3L202.6 717.2L203.2 594.9L203.4 798.4L204.0 708.6L204.9 743.0L205.6 715.9L206.3 736.3L206.8 712.2L207.4 738.9L208.2 718.0L209.0 733.4L209.6 711.0L210.6 736.8L211.2 597.5L211.7 781.8L212.3 738.1L213.1 717.6L213.9 736.2L214.8 711.7L215.5 733.4L216.3 712.8L217.1 735.4L217.9 711.2L218.7 736.1L219.5 715.2L220.4 734.8L221.3 711.8L222.2 742.0L223.0 715.5L223.6 600.3L224.2 809.0L224.7 718.8L225.3 749.8L226.3 719.4L226.9 738.1L227.8 712.5L228.5 744.9L229.0 719.2L229.9 748.3L230.3 584.7L231.1 788.9L231.7 751.9L232.6 726.1L233.4 749.7L234.5 718.9L235.6 604.4L236.5 794.8L237.7 751.6L238.9 673.1L240.2 730.4L241.2 694.4L242.0 736.0L243.4 696.7L244.1 733.7L244.9 701.5L246.3 738.4L247.0 688.0L247.7 742.4L248.8 783.0L249.2 678.5L250.1 751.2L251.2 701.1L252.1 750.2L253.1 668.4L253.4 683.3L254.9 739.8L256.1 684.2L257.5 756.2L258.3 783.7L258.9 698.2L259.8 753.4L260.5 699.3L261.5 742.2L262.3 691.1L263.2 737.5L264.5 684.0L264.9 671.9L265.3 758.2L266.1 787.7L266.7 762.3L267.8 688.3L269.0 765.0L270.4 694.0L271.2 747.9L272.6 687.3L273.7 771.0L274.8 668.4L275.8 756.9L277.2 683.2L277.9 741.9L278.9 682.6L280.3 787.7L280.9 705.1L282.2 762.5L283.1 678.1L283.7 764.5L285.1 686.8L286.5 757.8L287.6 677.2L288.3 754.2L289.7 786.5L290.9 666.0L291.9 670.9L293.2 695.0L294.6 680.0L295.6 704.9L296.9 695.2L298.0 719.6L299.0 708.2L300.1 735.5L300.4 646.7L300.9 719.7L301.8 763.4L302.7 814.9L303.9 768.7L305.1 711.7L306.3 668.4L307.3 697.8L307.9 767.5L308.9 641.0L309.5 758.7L309.8 642.4L309.8 788.9L310.5 673.5L311.3 749.1L312.3 677.9L313.1 747.5L314.0 654.5L314.8 754.4L315.7 660.3L316.6 741.1L317.7 597.5L318.6 742.6L319.1 663.6L319.8 741.4L320.8 655.0L321.9 745.3L322.6 644.1L323.6 772.9L324.1 669.7L324.8 565.8L325.2 806.6L325.6 672.8L326.3 773.8L327.2 651.4L327.8 786.0L328.6 655.1L329.9 635.5L330.2 659.0L330.6 809.0L331.2 778.0L331.7 658.6L332.5 785.6L333.5 657.8L333.9 789.4L335.0 665.3L335.8 641.2L336.7 665.0L337.5 792.5L338.4 632.5L339.2 788.6L340.5 499.3L340.5 823.2L341.0 803.0L341.7 662.6L342.3 786.1L343.0 655.7L343.6 785.9L344.2 656.3L344.9 788.3L345.5 653.8L346.4 773.5L346.9 622.9L347.5 768.6L348.1 615.1L348.8 762.6L349.1 519.6L349.2 519.6L349.7 612.9L350.3 754.3L351.1 626.0L352.1 781.8L352.5 638.2L353.5 552.8L354.3 629.7L355.3 745.7L356.2 647.0L357.2 620.3L357.6 634.7L358.2 739.7L358.7 638.5L359.4 734.7L360.3 636.7L361.3 729.9L362.3 622.0L362.7 765.3L362.9 564.4L364.0 603.5L364.5 749.0L364.9 613.5L365.8 747.2L366.7 633.0L367.7 742.5L368.7 637.0L369.2 752.5L369.9 639.1L370.8 759.2L371.7 620.3L372.0 573.9L372.6 758.4L372.9 777.1L373.4 606.8L374.4 749.8L375.3 621.3L376.1 739.0L376.9 556.8L377.3 734.7L378.1 784.2L378.4 736.8L379.3 612.3L379.9 755.5L380.8 640.5L381.6 753.9L382.1 628.1L383.0 754.4L383.7 634.6L384.2 761.7L384.9 635.5L385.5 757.9L386.0 615.8L386.6 774.1L387.6 614.7L388.1 602.4L388.9 616.4L389.6 773.1L390.5 633.8L391.1 798.4L392.2 611.7L392.7 775.5L393.4 651.2L394.1 763.0L395.0 659.3L395.8 757.0L396.4 662.3L397.1 770.7L397.8 662.5L398.4 775.1L399.4 809.0L400.1 759.9L400.7 660.7L401.6 755.4L402.2 660.2L403.0 762.3L403.8 650.0L404.3 765.8L405.2 650.9L405.6 636.5L406.1 768.4L406.7 647.8L407.6 778.9L408.3 669.0L408.8 788.9L409.5 680.9L410.1 774.3L410.9 673.1L411.6 780.5L412.1 669.2L412.9 786.8L413.6 676.4L414.5 789.2L415.1 671.5L415.6 785.0L416.5 679.4L417.0 797.7L417.7 690.9L418.4 787.8L418.9 678.3L419.5 782.4L419.9 825.5L420.4 683.7L421.1 794.8L421.9 679.0L422.5 781.4L423.1 682.9L423.8 779.8L424.6 672.9L425.4 778.0L426.1 676.8L426.5 819.6L427.4 677.0L428.1 798.4L428.8 673.5L429.5 795.1L430.1 682.0L430.6 641.2L430.9 786.9L431.5 677.9L432.3 785.5L433.1 670.7L433.8 781.2L434.4 665.8L435.2 774.7L436.0 786.5L436.6 777.0L437.2 645.9L437.8 783.3L438.4 671.8L439.4 785.7L439.9 671.3L440.4 783.6L441.0 665.8L441.5 764.2L442.1 677.4L442.8 760.0L443.4 683.2L444.2 762.6L444.7 684.8L445.2 755.6L445.9 677.9L446.6 772.4L447.3 679.5L447.9 753.9L448.3 669.5L449.2 769.5L449.7 666.6L450.3 768.7L450.8 659.4L451.7 769.7L452.2 656.3L453.0 761.7L453.9 661.9L454.5 772.6L455.0 665.4L455.5 781.2L456.1 831.9L457.2 777.1L458.0 686.7L458.8 784.1L459.5 679.6L460.3 770.3L460.8 687.7L461.6 786.1L462.2 674.9L462.7 780.2L463.6 824.4L464.5 768.8L465.1 661.0L465.9 767.9L466.6 666.7L467.0 781.7L467.4 650.6L468.3 779.7L468.9 671.9L469.6 787.6L470.1 666.6L470.8 788.0L471.6 651.0L472.6 796.0L473.4 666.2L474.2 759.9L474.7 666.8L475.4 774.5L476.2 642.4L476.9 767.9L477.8 805.4L478.2 778.3L478.7 663.3L479.2 783.3L479.6 683.9L480.6 775.7L481.2 672.8L481.7 782.2L482.6 678.6L483.0 776.7L484.0 681.3L484.8 790.5L485.6 668.2L486.3 795.1L487.2 676.3L487.6 789.9L488.4 666.8L489.0 796.1L489.6 796.0L490.2 778.3L490.8 670.4L491.4 786.5L492.0 671.2L493.0 779.0L493.9 681.5L494.6 768.6L495.2 670.7L495.8 656.5L496.6 681.2L497.3 764.4L498.0 671.6L498.6 772.4L499.5 679.5L500.0 762.5L500.9 671.6L501.3 766.0L502.1 673.6L503.1 763.1L503.8 653.0L504.7 674.3L505.4 772.5L506.1 674.1L507.0 789.3L507.7 679.1L508.4 799.6L509.3 648.3L509.7 803.4L510.2 679.0L511.0 798.2L511.6 670.7L512.5 798.6L513.3 807.8L514.1 789.4L514.6 681.9L515.6 789.2L516.1 679.3L516.9 776.5L517.5 688.0L518.2 782.6L518.8 683.1L519.2 660.1L519.9 791.3L520.5 773.8L521.3 669.9L522.1 774.9L522.6 670.8L523.3 764.1L523.9 678.5L524.7 762.7L525.1 800.7L525.5 669.4L525.9 769.3L526.5 650.6L527.5 764.9L528.3 671.1L528.8 783.8L529.4 664.2L529.9 785.9L530.7 653.5L531.4 800.7L532.3 624.7L532.8 812.4L533.3 644.0L534.5 592.8L534.8 659.4L535.3 810.4L536.0 676.9L536.7 809.1L537.4 691.8L538.1 804.5L538.6 691.3L539.5 789.2L540.2 679.5L541.0 783.2L541.9 680.5L542.5 766.5L543.4 682.4L544.0 764.4L544.6 676.3L545.3 766.2L546.2 671.7L546.6 772.7L547.3 675.6L547.8 770.1L548.3 664.9L548.8 777.1L549.2 672.6L549.8 778.2L550.4 661.9L551.1 764.0L551.8 791.3L552.4 765.4L552.9 675.9L553.5 779.5L554.2 666.3L555.1 769.6L555.9 678.4L556.6 776.8L557.3 675.3L558.2 776.7L558.8 673.4L559.4 773.6L560.1 636.1L560.7 784.8L561.4 657.4L562.0 807.8L562.9 660.7L563.7 784.0L564.2 661.4L565.0 790.8L565.6 675.0L566.1 778.9L566.8 674.4L567.6 776.0L568.4 796.0L569.1 773.7L569.9 658.8L570.7 775.3L571.6 662.3L572.2 789.4L573.0 672.6L573.8 650.6L573.8 812.5L574.2 677.7L575.1 780.9L575.9 658.9L576.4 772.5L577.0 655.9L577.6 770.6L578.1 661.8L579.0 777.3L579.8 654.6L580.6 834.3L581.4 654.7L582.1 780.6L582.8 641.8L583.2 776.8L584.0 644.5L584.9 776.0L585.6 649.8L586.3 787.0L586.8 656.0L587.3 796.0L587.6 787.4L588.2 661.7L589.1 777.7L589.6 661.6L590.1 771.7L591.1 667.2L592.0 656.5L592.5 673.3L593.4 776.6L593.8 677.3L594.8 793.2L595.7 670.7L596.2 788.2L596.7 672.1L597.6 798.7L598.1 639.0L599.0 799.1L599.7 662.2L600.5 797.4L601.1 667.5L601.4 819.6L601.8 791.3L602.8 668.8L603.2 783.8L604.1 651.4L604.7 790.3L605.7 636.5L606.1 774.7L607.1 791.3L608.1 668.0L608.9 772.7L609.5 667.6L610.0 782.1L610.9 659.5L611.4 773.1L612.2 637.6L612.9 777.8L613.4 656.8L613.8 785.8L614.3 660.9L615.3 770.1L615.9 653.2L616.7 788.3L617.7 790.1L618.4 775.3L619.3 642.0L619.7 786.3L620.3 655.8L620.8 773.9L621.7 634.6L622.5 773.4L623.1 647.1L623.5 773.9L624.3 628.8L625.0 594.9L625.9 638.5L626.6 776.5L627.5 661.7L627.9 803.1L628.6 655.2L629.0 770.2L629.8 657.8L630.7 753.6L631.3 645.1L631.9 749.8L632.4 648.8L633.1 750.4L633.8 634.1L634.6 759.2L635.5 762.9L636.3 748.8L637.2 607.1L638.1 733.0L638.7 623.0L639.7 772.4L640.1 621.6L640.7 724.9L641.5 625.2L642.1 606.4L642.9 628.3L643.6 708.1L644.2 629.0L645.1 698.7L646.2 652.3L647.0 704.5L647.8 661.2L649.0 736.3L649.7 663.0L650.8 829.1L651.6 682.1L652.5 737.8L653.8 668.1L655.2 742.6L655.9 679.8L656.7 793.6L658.1 707.3L659.3 769.5L660.0 714.3L661.0 693.2L662.1 707.8L663.1 724.1L664.4 706.1L665.1 718.9L666.0 702.9L667.2 722.6L668.5 701.8L669.3 717.2L670.3 701.6L671.1 721.1L671.7 702.4L672.4 717.0L673.5 700.1L674.2 716.5L675.5 695.8L676.7 713.2L677.6 695.0L678.4 709.9L679.6 690.1L680.7 711.0L681.9 690.7L682.6 705.9L683.6 692.5L684.7 719.6L685.4 685.5L686.2 725.2L687.4 561.3L687.9 827.9L689.2 682.7L690.1 704.6L691.2 675.7L692.1 706.0L692.9 663.6L694.0 699.7L694.8 677.1L695.7 701.7L696.2 681.3L697.0 701.1L697.7 685.7L698.2 705.4L698.7 690.2L699.5 709.9L700.1 695.5L700.5 715.3L700.9 696.5L701.6 717.8L702.1 699.8L702.7 719.5L703.3 702.8L703.9 723.6L704.5 706.8L704.9 725.6L705.7 707.3L706.2 730.1L706.6 711.8L707.1 731.0L707.7 712.6L708.4 732.4L708.8 711.0L709.2 734.1L709.8 712.7L710.3 735.7L710.8 715.6L711.4 736.0L711.9 714.1L712.6 734.1L713.4 716.0L714.0 736.4L714.7 715.4L715.3 737.9L716.0 717.7L716.5 737.1L717.2 715.7L718.0 743.8L718.5 716.1L719.2 740.7L719.7 719.3L720.3 741.3L720.8 716.2L721.2 742.8L721.9 717.1L722.3 745.1L722.8 718.0L723.4 745.8L724.2 717.6L724.7 743.5L725.2 721.8L725.6 743.5L726.5 718.7L727.2 748.7L728.0 718.2L728.5 745.8L729.1 717.6L729.6 746.8L730.3 722.3L731.0 742.8L731.5 718.5L732.2 748.1L732.9 717.4L733.6 743.3L734.4 722.5L735.1 743.8L735.6 720.3L736.3 745.9L736.9 717.4L737.4 745.5L738.2 717.7L738.8 742.0L739.2 716.7L740.0 741.4L740.4 715.6L741.2 742.8L741.5 715.6L742.0 742.6L742.4 714.9L743.1 739.3L743.8 717.9L744.5 741.2L745.1 714.7L745.7 740.2L746.2 718.2L747.0 741.7L747.3 714.8L747.9 744.0L748.5 717.4L748.8 745.9L749.5 714.4L749.9 744.5L750.7 712.4L751.2 741.9L751.9 713.2L752.6 737.9L753.2 709.5L754.0 742.2L754.6 712.3L755.2 738.3L755.8 711.6L756.6 739.8L757.2 709.6L758.0 738.6L758.6 711.4L758.9 732.7L759.5 712.4L760.1 736.9L760.6 709.9L761.4 734.0L762.2 706.5L762.7 732.0L763.4 708.0L763.9 731.7L764.6 707.9L765.2 730.8L765.7 707.5L766.5 729.7L766.9 708.8L767.6 733.2L768.1 703.5L768.8 730.7L769.3 704.0L770.0 731.7L770.4 705.3L771.2 728.9L771.7 706.8L772.1 728.9L772.5 699.1L773.2 729.2L773.8 706.6L774.6 727.7L775.2 707.8L775.8 729.0L776.4 706.9L776.9 730.8L777.4 706.5L777.8 729.4L778.3 704.2L778.9 728.4L779.6 702.7L780.2 729.8L780.8 739.3L781.7 729.7L782.1 702.9L782.7 728.6L783.4 701.2L784.0 727.0L784.3 703.1L785.0 724.7L785.8 701.5L786.3 727.3L787.0 701.4L787.5 728.8L788.3 698.4L788.8 727.2L789.2 701.6L790.0 728.8L790.3 690.8L790.7 702.5L791.2 727.3L792.0 703.4L792.5 725.3L793.0 704.6L793.4 725.0L794.2 702.4L794.9 727.5L795.6 704.4L796.1 726.1L796.4 703.9L797.0 727.8L797.8 707.3L798.2 730.8L798.8 703.6L799.5 731.8L800.2 702.7L800.9 731.7L801.4 703.4L802.0 733.5L802.4 701.8L803.2 730.1L804.0 701.6L804.4 731.2L805.0 701.8L805.7 729.7L806.5 701.8L806.9 734.3L807.4 706.1L808.1 732.8L808.9 705.7L809.4 729.8L810.2 702.4L811.0 732.9L811.8 703.1L812.5 732.1L813.0 703.7L813.4 729.1L813.9 704.4L814.2 730.7L815.0 705.3L815.8 728.3L816.3 709.1L816.9 727.1L817.4 706.2L818.2 728.4L818.9 706.1L819.6 730.4L820.4 704.7L821.2 730.3L822.0 704.6L822.4 728.1L823.0 704.0L823.8 730.1L824.3 704.8L825.0 729.0L825.5 704.2L825.9 728.6L826.6 705.0L827.1 727.3L827.6 704.4L828.4 730.5L829.0 705.3L829.4 727.1L829.8 704.8L830.4 726.6L830.9 705.3L831.3 730.7L831.7 704.6L832.6 726.1L833.0 703.3L833.8 729.4L834.6 703.8L835.3 727.2L836.1 702.3L836.5 729.9L836.9 704.8L837.8 729.5L838.3 702.4L838.9 730.3L839.7 706.0L840.1 728.8L840.5 705.5L841.1 735.7L841.7 705.4L842.5 727.2L843.3 703.1L843.7 728.5L844.3 704.1L845.0 729.2L845.4 703.8L845.8 728.2L846.2 702.7L846.6 725.5L847.0 707.2L847.4 729.8L848.0 704.4L848.8 724.2L849.5 704.8L850.2 727.3L850.9 702.4L851.8 725.7L852.6 702.5L853.0 729.2L853.5 703.9L854.1 727.8L854.7 702.8L855.5 725.8L856.0 701.0" fill="none" stroke="#1f77b4" stroke-width="1.90" stroke-linejoin="round"/>
<rect x="221.1" y="584.1" width="470.9" height="217.8" fill="none" stroke="#e8384a" stroke-width="2"/>
<rect x="94.9" y="482.9" width="762.7" height="369.3" fill="none" stroke="#838383" stroke-width="1.6"/>
<line x1="91.9" y1="497.8" x2="94.9" y2="497.8" stroke="#838383" stroke-width="1"/>
<line x1="91.9" y1="570.0" x2="94.9" y2="570.0" stroke="#838383" stroke-width="1"/>
<line x1="91.9" y1="643.8" x2="94.9" y2="643.8" stroke="#838383" stroke-width="1"/>
<line x1="91.9" y1="715.7" x2="94.9" y2="715.7" stroke="#838383" stroke-width="1"/>
<line x1="91.9" y1="787.6" x2="94.9" y2="787.6" stroke="#838383" stroke-width="1"/>
<line x1="95.0" y1="852.2" x2="95.0" y2="855.2" stroke="#838383" stroke-width="1"/>
<line x1="210.5" y1="852.2" x2="210.5" y2="855.2" stroke="#838383" stroke-width="1"/>
<line x1="326.0" y1="852.2" x2="326.0" y2="855.2" stroke="#838383" stroke-width="1"/>
<line x1="441.5" y1="852.2" x2="441.5" y2="855.2" stroke="#838383" stroke-width="1"/>
<line x1="557.0" y1="852.2" x2="557.0" y2="855.2" stroke="#838383" stroke-width="1"/>
<line x1="672.5" y1="852.2" x2="672.5" y2="855.2" stroke="#838383" stroke-width="1"/>
<line x1="788.0" y1="852.2" x2="788.0" y2="855.2" stroke="#838383" stroke-width="1"/>
<text x="79.6" y="506.1" text-anchor="end" font-size="25.4" fill="#1a1a1a">1.5</text>
<text x="79.6" y="580.9" text-anchor="end" font-size="25.4" fill="#1a1a1a">1.0</text>
<text x="79.6" y="655.0" text-anchor="end" font-size="25.4" fill="#1a1a1a">0.5</text>
<text x="79.6" y="727.2" text-anchor="end" font-size="25.4" fill="#1a1a1a">0.0</text>
<text x="79.6" y="798.8" text-anchor="end" font-size="25.4" fill="#1a1a1a">-0.5</text>
<text x="97.1" y="873.7" text-anchor="middle" font-size="25.4" fill="#1a1a1a">0</text>
<text x="196.6" y="873.7" text-anchor="middle" font-size="25.4" fill="#1a1a1a">10</text>
<text x="317.3" y="873.7" text-anchor="middle" font-size="25.4" fill="#1a1a1a">20</text>
<text x="432.0" y="873.7" text-anchor="middle" font-size="25.4" fill="#1a1a1a">30</text>
<text x="552.5" y="873.7" text-anchor="middle" font-size="25.4" fill="#1a1a1a">40</text>
<text x="674.0" y="873.7" text-anchor="middle" font-size="25.4" fill="#1a1a1a">50</text>
<text x="788.0" y="873.7" text-anchor="middle" font-size="25.4" fill="#1a1a1a">60</text>
<text x="435.0" y="894.6" text-anchor="middle" font-size="25" fill="#1a1a1a">Time (s)</text>
<text transform="translate(29.2 697.2) rotate(-90)" text-anchor="middle" font-size="25.7" fill="#1a1a1a">Amplitude (mV)</text>
<text x="435.2" y="473.0" text-anchor="middle" font-size="30" fill="#1a1a1a">(c)</text>
<g stroke="#111" stroke-width="2.2" fill="none">
<line x1="670.6" y1="876.0" x2="670.6" y2="894.0"/>
<line x1="789.0" y1="876.0" x2="789.0" y2="894.0"/>
<line x1="670.6" y1="885.0" x2="710.0" y2="885.0"/>
<line x1="748.8" y1="885.0" x2="789.0" y2="885.0"/>
</g>
<text x="729.4" y="890.7" text-anchor="middle" font-size="16.6" font-weight="bold" fill="#111">10 s</text>
</g>
<g id="panel-d">
<clipPath id="clip-d"><rect x="948.2" y="482.9" width="754.4" height="369.1"/></clipPath>
<path clip-path="url(#clip-d)" d="M949.7 649.6L950.2 638.1L950.7 657.6L951.6 627.6L952.1 621.0L952.9 634.1L953.4 664.2L954.1 638.6L954.5 653.9L955.4 638.9L956.1 666.2L956.6 633.7L957.2 581.4L958.2 682.0L959.0 625.4L959.6 649.3L960.4 625.9L961.1 654.4L962.0 627.9L962.7 658.5L963.2 631.2L964.3 624.1L965.4 651.3L965.9 635.0L966.3 661.7L967.0 629.1L968.0 654.3L968.5 634.2L969.0 659.8L970.0 608.8L970.4 677.3L971.1 633.5L971.6 657.9L972.4 628.0L973.0 660.6L973.9 589.5L974.8 639.6L975.6 668.6L976.2 630.9L976.7 658.1L977.4 632.6L978.1 665.7L978.7 639.9L979.6 676.3L980.4 659.2L981.6 623.1L982.5 628.8L982.9 667.6L983.7 638.1L984.4 667.4L984.9 632.7L985.6 656.7L986.2 637.0L986.7 664.1L987.9 663.2L988.7 629.2L989.5 627.3L990.4 662.4L991.2 632.8L992.1 662.4L992.9 631.9L993.4 662.5L994.4 605.8L994.8 672.2L995.8 654.0L996.2 636.0L996.9 664.9L997.4 640.4L998.3 664.0L998.9 573.3L999.5 691.5L1000.2 628.3L1001.0 648.9L1001.8 633.7L1002.3 648.5L1002.9 621.5L1004.0 625.1L1005.3 660.7L1005.8 631.6L1006.3 653.9L1007.4 590.1L1008.1 679.3L1009.0 659.8L1009.8 628.9L1010.7 618.0L1011.3 632.0L1012.1 712.9L1013.3 662.5L1013.8 639.9L1014.3 660.4L1014.7 636.6L1015.6 662.3L1016.0 630.7L1016.5 659.3L1017.3 634.1L1018.2 563.1L1019.2 674.2L1020.1 639.3L1020.8 667.7L1021.9 603.2L1022.7 685.4L1024.0 652.9L1024.6 636.4L1025.1 665.7L1025.8 633.9L1026.7 654.3L1027.1 629.7L1027.8 668.2L1028.4 629.1L1029.0 660.5L1030.4 621.0L1030.4 664.1L1031.4 657.6L1032.2 629.8L1033.0 662.9L1033.6 628.9L1034.2 666.0L1034.9 627.7L1035.8 665.6L1036.5 627.1L1037.5 679.3L1038.2 655.0L1039.0 629.5L1039.5 659.4L1040.2 638.0L1040.7 649.8L1042.0 591.6L1043.0 654.8L1043.6 634.2L1044.1 657.1L1044.8 624.3L1045.3 647.1L1046.1 623.3L1046.7 627.1L1047.7 676.3L1048.8 632.1L1049.5 669.1L1050.2 637.9L1051.1 666.6L1051.7 638.2L1052.1 657.0L1053.0 632.9L1053.8 618.0L1054.6 628.9L1055.5 660.4L1056.4 629.6L1057.3 682.4L1058.1 659.4L1058.8 634.0L1059.2 654.2L1059.6 627.3L1060.2 654.7L1060.8 632.2L1061.5 584.0L1062.5 680.3L1063.2 632.1L1063.8 667.6L1064.4 610.9L1065.1 664.6L1065.6 637.6L1066.4 661.4L1067.3 626.1L1067.8 654.1L1068.6 688.5L1069.4 637.2L1070.0 667.8L1070.5 632.9L1071.1 616.0L1071.8 639.9L1072.6 661.7L1073.4 641.5L1074.0 661.6L1074.5 632.3L1075.2 654.4L1076.2 682.4L1076.8 661.9L1077.3 620.3L1078.2 617.0L1078.8 654.9L1079.7 631.9L1080.1 658.8L1080.6 633.5L1081.1 648.5L1081.7 636.5L1082.3 618.0L1083.0 626.7L1083.5 665.0L1084.3 681.3L1085.4 623.9L1086.3 620.0L1087.6 651.4L1088.0 630.9L1088.9 661.5L1089.5 627.6L1090.1 664.6L1090.7 628.0L1091.2 662.4L1091.7 635.2L1092.4 605.8L1093.8 676.3L1094.9 668.6L1095.5 629.1L1096.3 665.4L1097.1 623.1L1097.9 660.3L1098.7 627.2L1099.2 652.6L1100.0 629.5L1100.4 653.5L1101.0 631.4L1101.5 665.9L1102.6 671.2L1104.0 614.9L1104.8 672.6L1105.7 633.3L1106.2 659.1L1107.0 636.9L1107.4 657.1L1108.0 637.9L1108.7 621.0L1109.6 663.6L1110.4 635.0L1110.9 660.9L1111.7 627.4L1112.7 677.3L1114.0 653.9L1114.8 561.1L1115.8 624.1L1116.8 600.7L1116.8 676.3L1118.1 657.9L1118.7 621.7L1119.6 654.1L1120.5 634.8L1121.3 655.7L1121.9 629.2L1122.6 657.3L1123.1 628.4L1123.9 662.5L1124.4 627.7L1125.0 655.1L1125.5 639.4L1126.0 661.6L1127.0 667.1L1127.7 666.4L1128.4 626.2L1129.0 614.9L1130.1 628.1L1130.9 660.9L1131.8 628.9L1132.3 650.2L1133.0 628.9L1134.1 627.1L1134.7 626.8L1135.3 655.8L1136.1 642.1L1137.1 667.1L1138.1 668.6L1138.7 633.0L1139.1 661.5L1139.7 630.4L1140.6 657.0L1141.2 600.7L1142.1 662.9L1142.6 631.7L1143.1 665.3L1143.6 643.4L1144.1 663.5L1144.5 635.0L1145.3 668.6L1145.9 635.7L1146.8 662.5L1147.5 641.7L1148.7 618.0L1149.3 677.3L1150.3 662.8L1151.0 637.1L1151.8 650.4L1152.3 623.3L1153.0 648.4L1153.5 633.0L1154.4 629.2L1155.2 664.0L1155.8 641.2L1156.5 661.9L1157.0 634.5L1157.4 668.1L1158.1 627.1L1158.9 663.4L1159.7 642.0L1160.3 663.4L1160.9 627.8L1161.5 833.8L1163.0 582.8L1163.8 634.1L1164.5 654.8L1165.6 608.8L1166.6 638.9L1167.2 666.6L1167.6 639.0L1168.2 668.3L1168.9 630.0L1169.5 659.4L1170.3 804.7L1171.3 632.1L1172.0 661.3L1172.7 629.2L1173.5 663.3L1174.8 687.4L1175.7 646.2L1176.1 661.3L1176.8 628.2L1177.8 680.3L1178.4 646.1L1179.3 660.0L1179.7 636.0L1180.6 656.3L1181.3 637.0L1181.8 650.3L1182.2 627.8L1182.6 649.1L1183.3 629.6L1183.9 617.0L1184.9 621.4L1185.5 644.9L1186.3 607.8L1187.5 626.6L1188.3 654.3L1188.7 620.3L1189.1 653.9L1190.0 617.0L1191.2 623.4L1192.0 654.2L1192.6 627.2L1193.1 650.1L1193.7 619.2L1194.3 652.8L1195.1 691.5L1196.1 614.9L1197.2 624.2L1197.6 671.9L1198.3 634.5L1198.9 683.7L1199.5 630.8L1200.1 697.9L1201.0 612.9L1201.2 616.0L1201.2 698.6L1201.9 631.9L1202.5 698.6L1203.2 637.9L1203.6 683.2L1204.0 624.5L1204.6 685.7L1205.0 632.5L1205.7 604.8L1206.5 633.4L1207.1 683.9L1207.8 694.6L1208.4 684.8L1209.0 638.1L1209.6 689.7L1210.2 617.0L1211.3 632.6L1211.8 674.2L1212.6 676.3L1213.6 628.5L1214.3 621.0L1215.1 631.0L1215.9 683.4L1216.9 681.7L1217.5 626.3L1218.3 612.9L1219.3 678.3L1220.3 678.6L1220.8 627.1L1221.4 683.6L1222.0 605.8L1223.4 688.5L1224.3 690.6L1224.7 614.4L1225.4 601.7L1226.4 630.7L1227.1 709.8L1228.1 611.6L1228.4 699.4L1228.8 624.5L1229.8 696.1L1230.5 542.2L1231.9 696.2L1233.0 590.5L1234.2 631.5L1236.2 568.6L1237.5 621.9L1238.3 710.8L1239.2 686.1L1240.7 596.2L1241.7 707.8L1242.5 697.3L1243.6 619.8L1244.4 594.2L1245.4 687.7L1246.9 621.5L1249.2 725.5L1249.9 625.0L1251.3 604.4L1252.6 632.4L1253.9 706.8L1256.5 602.7L1258.6 741.3L1259.2 632.2L1260.9 692.1L1261.6 621.0L1262.4 599.1L1263.7 716.5L1264.9 680.9L1266.1 618.4L1267.3 677.9L1268.1 602.7L1269.6 720.6L1270.4 695.0L1271.5 617.5L1272.4 681.9L1273.7 625.0L1274.4 600.3L1275.3 728.7L1275.9 679.6L1276.7 622.5L1277.5 681.7L1278.4 625.1L1279.5 694.0L1280.2 629.1L1281.4 710.8L1281.8 568.6L1283.1 680.8L1284.4 592.6L1285.6 621.6L1286.8 567.2L1287.5 619.9L1288.5 555.0L1288.9 700.7L1289.5 632.6L1290.2 681.6L1291.1 628.2L1291.8 680.0L1292.8 627.0L1293.5 528.5L1293.5 709.8L1294.5 619.3L1295.2 677.3L1296.1 634.1L1297.0 588.5L1298.0 622.6L1298.9 687.9L1299.6 525.1L1299.6 709.8L1300.8 681.4L1301.5 615.7L1302.1 582.4L1303.6 630.3L1304.5 529.2L1305.1 704.7L1306.3 689.1L1307.2 624.9L1308.2 546.8L1309.8 710.8L1310.8 634.7L1311.8 498.7L1313.2 627.0L1313.9 749.4L1314.3 544.8L1315.2 630.3L1316.3 688.4L1317.0 639.3L1317.9 562.1L1319.0 749.0L1320.0 608.8L1321.2 617.9L1322.0 532.6L1323.4 740.3L1324.4 562.1L1325.1 691.0L1326.5 556.0L1328.1 709.8L1329.1 576.3L1330.6 686.6L1331.8 751.1L1332.2 552.3L1333.7 628.3L1334.6 572.3L1335.9 681.5L1336.6 620.1L1337.5 540.1L1337.5 746.4L1338.1 621.3L1339.7 580.4L1340.5 618.9L1341.7 569.2L1342.3 703.7L1343.3 672.6L1344.0 617.4L1345.1 695.8L1345.8 552.9L1347.0 704.7L1348.4 580.4L1349.7 639.2L1350.9 543.2L1351.5 707.8L1352.5 675.8L1353.5 600.7L1354.6 624.8L1355.4 687.8L1356.0 576.7L1356.0 721.4L1356.5 617.2L1357.7 673.6L1358.6 600.7L1359.9 689.1L1361.0 743.8L1361.2 564.1L1362.4 625.7L1363.7 604.8L1364.3 616.5L1365.1 710.8L1365.9 581.4L1367.5 691.5L1368.1 636.9L1369.0 692.5L1369.8 713.3L1370.0 570.2L1370.8 679.9L1371.8 619.6L1372.8 608.8L1373.9 693.4L1374.5 745.0L1375.5 674.9L1376.5 615.1L1377.3 682.9L1378.3 617.0L1379.3 635.5L1379.7 620.8L1380.6 635.7L1381.2 627.9L1381.8 639.4L1382.5 638.9L1383.0 646.9L1383.5 643.3L1384.1 653.6L1384.8 648.8L1385.2 655.6L1385.8 649.3L1386.5 658.4L1387.3 650.2L1387.9 658.2L1388.4 648.2L1388.9 659.2L1389.3 646.9L1389.7 656.6L1390.4 645.9L1391.2 654.5L1391.6 646.5L1392.2 655.8L1393.0 643.8L1393.6 656.2L1394.4 646.2L1394.9 652.0L1395.4 643.5L1396.0 654.4L1396.8 642.4L1397.4 650.9L1397.9 640.6L1398.7 653.3L1399.4 640.2L1399.8 651.3L1400.2 639.6L1400.9 652.1L1401.6 640.9L1402.2 648.2L1402.7 639.0L1403.2 649.0L1404.0 639.8L1404.6 648.7L1405.1 637.4L1405.7 648.5L1406.5 638.0L1406.9 647.4L1407.4 639.1L1408.1 647.4L1408.8 638.5L1409.3 647.5L1409.9 639.7L1410.3 651.1L1411.0 637.0L1411.7 647.1L1412.4 638.6L1413.1 648.6L1413.5 635.6L1414.2 649.3L1414.8 638.8L1415.2 646.3L1416.0 634.9L1416.7 647.6L1417.5 634.3L1417.9 649.4L1418.3 636.4L1418.7 649.7L1419.4 635.2L1420.0 649.2L1420.4 633.8L1421.1 649.3L1421.8 633.6L1422.2 648.5L1422.7 636.7L1423.5 649.5L1423.9 636.0L1424.5 651.5L1425.3 634.6L1425.7 651.3L1426.5 636.2L1427.0 649.3L1427.7 634.7L1428.1 651.6L1428.5 636.6L1429.0 652.1L1429.6 637.9L1430.0 646.9L1430.4 635.0L1430.8 651.4L1431.6 636.4L1432.2 648.4L1432.9 635.4L1433.5 650.2L1434.0 638.5L1434.6 652.4L1435.2 635.9L1435.6 652.1L1436.2 637.2L1436.7 647.4L1437.3 637.7L1438.0 652.2L1438.6 634.9L1439.0 652.1L1439.6 634.9L1440.4 650.2L1441.1 638.5L1441.5 651.9L1442.2 637.6L1443.0 648.5L1443.4 637.5L1443.9 652.1L1444.6 639.2L1445.3 650.3L1446.1 638.6L1446.6 648.8L1447.0 636.1L1447.6 650.4L1448.2 633.8L1448.7 647.2L1449.1 636.4L1449.6 652.7L1450.2 633.8L1450.7 647.3L1451.1 635.7L1451.6 652.3L1452.3 636.0L1453.1 650.9L1453.8 637.5L1454.3 655.5L1455.1 638.6L1455.8 654.0L1456.3 637.6L1456.7 652.4L1457.3 636.6L1458.1 627.1L1458.8 633.5L1459.4 653.5L1459.8 635.4L1460.5 657.4L1461.0 629.5L1461.5 656.4L1462.0 635.3L1462.7 655.8L1463.4 633.0L1463.9 658.7L1464.6 636.6L1465.6 614.9L1466.8 708.8L1467.8 634.6L1468.4 665.1L1469.1 638.7L1469.7 659.4L1470.3 617.0L1471.3 628.0L1472.2 656.1L1472.9 632.0L1473.4 660.4L1474.3 606.8L1475.8 684.8L1476.7 635.5L1477.4 658.5L1478.4 625.1L1479.3 633.0L1480.1 652.0L1480.6 624.0L1481.2 648.4L1481.9 629.3L1482.7 661.5L1483.5 608.8L1484.5 681.3L1485.7 628.5L1486.4 660.6L1487.0 630.0L1487.6 658.9L1488.2 643.2L1489.6 612.5L1490.4 638.6L1491.0 670.4L1491.7 638.7L1492.6 665.1L1493.0 625.9L1493.6 659.9L1494.4 626.7L1495.1 654.6L1495.7 631.1L1496.7 630.2L1497.7 656.5L1498.3 636.9L1498.9 666.7L1499.3 642.8L1499.9 658.0L1500.8 633.3L1501.2 670.2L1502.4 590.5L1503.8 688.5L1505.2 633.1L1505.8 664.1L1506.2 636.3L1506.7 654.0L1507.9 590.5L1508.9 680.3L1509.9 664.1L1510.4 627.0L1510.9 660.8L1512.0 599.1L1512.6 623.3L1513.1 656.9L1514.0 621.7L1514.6 650.8L1515.1 625.3L1515.9 652.6L1516.4 632.0L1517.2 649.8L1517.7 632.3L1518.5 601.1L1519.7 678.3L1520.5 638.8L1521.1 660.9L1521.7 634.3L1522.3 662.2L1523.3 602.7L1524.2 677.3L1525.2 665.5L1525.9 638.6L1526.6 662.0L1527.3 631.5L1527.9 666.6L1528.4 631.8L1529.3 666.6L1530.3 672.2L1531.1 628.9L1531.7 672.9L1532.1 635.6L1532.7 663.2L1533.3 614.9L1534.5 660.9L1535.3 671.2L1536.8 623.4L1537.3 665.8L1538.0 607.2L1538.5 664.7L1539.1 631.3L1539.6 666.3L1540.2 640.5L1541.1 663.6L1541.7 639.9L1542.6 671.3L1543.4 640.5L1544.0 674.6L1544.4 628.2L1545.3 672.4L1545.9 630.0L1546.5 623.1L1547.6 654.5L1548.3 638.6L1549.0 672.2L1549.6 623.6L1550.1 657.9L1550.9 621.8L1551.6 664.7L1552.6 625.1L1553.4 626.8L1554.2 661.8L1555.0 631.2L1555.8 658.4L1556.7 586.9L1557.8 622.0L1558.4 655.5L1559.2 636.6L1559.7 652.2L1560.6 628.6L1561.8 617.0L1563.1 668.0L1563.8 677.3L1564.5 662.2L1565.0 629.2L1565.8 671.6L1566.2 636.3L1566.9 665.2L1567.7 628.8L1568.4 655.9L1569.1 567.2L1570.1 629.2L1570.9 666.1L1571.9 626.0L1572.8 671.9L1573.6 630.3L1574.4 617.0L1575.0 680.3L1576.0 671.2L1576.5 641.9L1577.4 698.6L1578.4 660.3L1578.8 633.7L1579.4 603.8L1580.7 669.2L1581.5 674.2L1582.4 634.6L1582.8 672.7L1583.2 633.2L1583.9 659.9L1584.3 638.1L1584.8 659.7L1585.5 597.3L1586.2 670.9L1586.6 628.8L1587.3 664.6L1588.2 612.9L1589.0 633.6L1589.5 665.4L1590.3 634.8L1591.2 594.6L1592.1 663.6L1592.6 622.5L1593.0 660.2L1593.6 636.7L1594.7 617.0L1595.6 671.2L1596.0 627.3L1596.6 667.6L1597.4 637.0L1598.1 659.7L1599.0 632.4L1599.8 678.3L1600.6 625.4L1601.8 570.6L1602.9 659.9L1603.4 628.3L1604.2 655.7L1605.0 624.9L1605.8 663.8L1606.5 601.7L1607.1 658.2L1607.9 680.3L1608.8 629.5L1609.4 666.8L1610.0 623.0L1610.6 622.1L1611.2 627.8L1611.9 661.4L1612.6 639.3L1613.3 655.5L1614.0 606.4L1614.8 675.2L1615.6 681.3L1616.7 631.1L1617.3 663.7L1618.1 642.5L1619.1 619.0L1619.6 630.2L1620.2 660.8L1620.7 626.3L1621.3 654.6L1622.1 632.2L1623.0 662.8L1623.7 633.7L1624.1 654.6L1624.6 637.2L1625.1 664.4L1625.8 682.8L1626.7 655.6L1627.2 634.1L1627.8 605.2L1629.1 653.7L1629.5 632.0L1630.3 663.4L1631.1 629.2L1631.7 660.7L1632.2 630.5L1632.8 655.1L1633.2 625.2L1633.7 652.2L1634.5 610.9L1635.7 638.4L1636.1 657.8L1636.5 638.0L1637.4 661.4L1638.3 638.2L1639.0 567.8L1640.0 666.1L1641.3 626.2L1641.9 660.1L1642.3 619.2L1643.1 650.9L1644.1 603.2L1645.0 620.7L1645.9 654.1L1646.7 632.4L1647.4 666.4L1648.3 637.2L1648.9 667.6L1650.2 674.2L1650.9 635.4L1651.8 546.8L1652.5 642.6L1652.9 668.8L1653.6 629.7L1654.4 662.2L1655.1 643.3L1656.3 625.1L1657.3 672.2L1658.1 634.9L1658.6 661.0L1659.1 634.5L1659.6 663.3L1660.4 599.1L1661.6 636.5L1662.4 687.4L1663.8 588.5L1665.4 686.4L1666.4 663.7L1667.0 623.8L1668.1 613.9L1669.5 680.3L1670.8 667.4L1671.5 619.0L1672.2 662.0L1673.1 634.2L1673.8 660.1L1674.3 635.4L1674.8 656.9L1675.4 632.5L1676.6 629.2L1676.6 670.2L1677.6 663.8L1678.0 619.4L1678.8 656.4L1679.5 629.3L1680.1 584.4L1680.7 675.2L1681.5 651.9L1682.1 628.5L1683.0 667.5L1683.4 628.7L1684.3 608.8L1685.8 680.3L1686.8 659.8L1687.8 596.2L1688.8 674.2L1689.5 671.3L1690.3 628.8L1691.3 617.0L1691.9 630.5L1692.6 673.5L1693.1 628.2L1694.3 588.5L1695.3 669.8L1695.9 640.2L1696.4 657.8L1697.1 627.2L1697.7 664.1L1698.2 629.9L1699.0 592.6L1700.0 676.3L1700.6 668.3L1701.0 640.2L1701.5 656.5" fill="none" stroke="#1f77b4" stroke-width="1.90" stroke-linejoin="round"/>
<rect x="1199.1" y="515.3" width="252.0" height="244.7" fill="none" stroke="#e8384a" stroke-width="2"/>
<rect x="948.2" y="482.9" width="754.4" height="369.1" fill="none" stroke="#838383" stroke-width="1.6"/>
<line x1="945.2" y1="515.9" x2="948.2" y2="515.9" stroke="#838383" stroke-width="1"/>
<line x1="945.2" y1="558.6" x2="948.2" y2="558.6" stroke="#838383" stroke-width="1"/>
<line x1="945.2" y1="601.2" x2="948.2" y2="601.2" stroke="#838383" stroke-width="1"/>
<line x1="945.2" y1="643.9" x2="948.2" y2="643.9" stroke="#838383" stroke-width="1"/>
<line x1="945.2" y1="686.5" x2="948.2" y2="686.5" stroke="#838383" stroke-width="1"/>
<line x1="945.2" y1="729.2" x2="948.2" y2="729.2" stroke="#838383" stroke-width="1"/>
<line x1="945.2" y1="771.9" x2="948.2" y2="771.9" stroke="#838383" stroke-width="1"/>
<line x1="945.2" y1="814.5" x2="948.2" y2="814.5" stroke="#838383" stroke-width="1"/>
<line x1="948.2" y1="852.0" x2="948.2" y2="855.0" stroke="#838383" stroke-width="1"/>
<line x1="1073.9" y1="852.0" x2="1073.9" y2="855.0" stroke="#838383" stroke-width="1"/>
<line x1="1199.7" y1="852.0" x2="1199.7" y2="855.0" stroke="#838383" stroke-width="1"/>
<line x1="1325.4" y1="852.0" x2="1325.4" y2="855.0" stroke="#838383" stroke-width="1"/>
<line x1="1451.1" y1="852.0" x2="1451.1" y2="855.0" stroke="#838383" stroke-width="1"/>
<line x1="1576.8" y1="852.0" x2="1576.8" y2="855.0" stroke="#838383" stroke-width="1"/>
<line x1="1702.6" y1="852.0" x2="1702.6" y2="855.0" stroke="#838383" stroke-width="1"/>
<text x="940.6" y="531.6" text-anchor="end" font-size="26.6" fill="#1a1a1a">0.6</text>
<text x="940.6" y="572.5" text-anchor="end" font-size="26.6" fill="#1a1a1a">0.4</text>
<text x="940.6" y="616.6" text-anchor="end" font-size="26.6" fill="#1a1a1a">0.2</text>
<text x="940.6" y="658.8" text-anchor="end" font-size="26.6" fill="#1a1a1a">0.0</text>
<text x="940.6" y="701.3" text-anchor="end" font-size="26.6" fill="#1a1a1a">-0.2</text>
<text x="940.6" y="744.2" text-anchor="end" font-size="26.6" fill="#1a1a1a">-0.4</text>
<text x="940.6" y="785.7" text-anchor="end" font-size="26.6" fill="#1a1a1a">-0.6</text>
<text x="940.6" y="830.2" text-anchor="end" font-size="26.6" fill="#1a1a1a">-0.8</text>
<text x="950.5" y="876.9" text-anchor="middle" font-size="26.6" fill="#1a1a1a">0</text>
<text x="1070.6" y="876.9" text-anchor="middle" font-size="26.6" fill="#1a1a1a">10</text>
<text x="1198.9" y="876.9" text-anchor="middle" font-size="26.6" fill="#1a1a1a">20</text>
<text x="1326.7" y="876.9" text-anchor="middle" font-size="26.6" fill="#1a1a1a">30</text>
<text x="1447.2" y="876.9" text-anchor="middle" font-size="26.6" fill="#1a1a1a">40</text>
<text x="1575.0" y="876.9" text-anchor="middle" font-size="26.6" fill="#1a1a1a">50</text>
<text x="1695.4" y="876.9" text-anchor="middle" font-size="26.6" fill="#1a1a1a">60</text>
<text x="1296.2" y="900.0" text-anchor="middle" font-size="26.6" fill="#1a1a1a">Time (s)</text>
<text transform="translate(881.2 658.9) rotate(-90)" text-anchor="middle" font-size="27" fill="#1a1a1a">Amplitude (mV)</text>
<text x="1284.3" y="478.2" text-anchor="middle" font-size="30" fill="#1a1a1a">(d)</text>
<g stroke="#111" stroke-width="2.2" fill="none">
<line x1="1577.0" y1="876.8" x2="1577.0" y2="894.8"/>
<line x1="1701.4" y1="876.8" x2="1701.4" y2="894.8"/>
<line x1="1577.0" y1="885.8" x2="1618.0" y2="885.8"/>
<line x1="1658.5" y1="885.8" x2="1701.4" y2="885.8"/>
</g>
<text x="1638.2" y="891.5" text-anchor="middle" font-size="16.6" font-weight="bold" fill="#111">10 s</text>
</g>
</svg>
</body></html>
